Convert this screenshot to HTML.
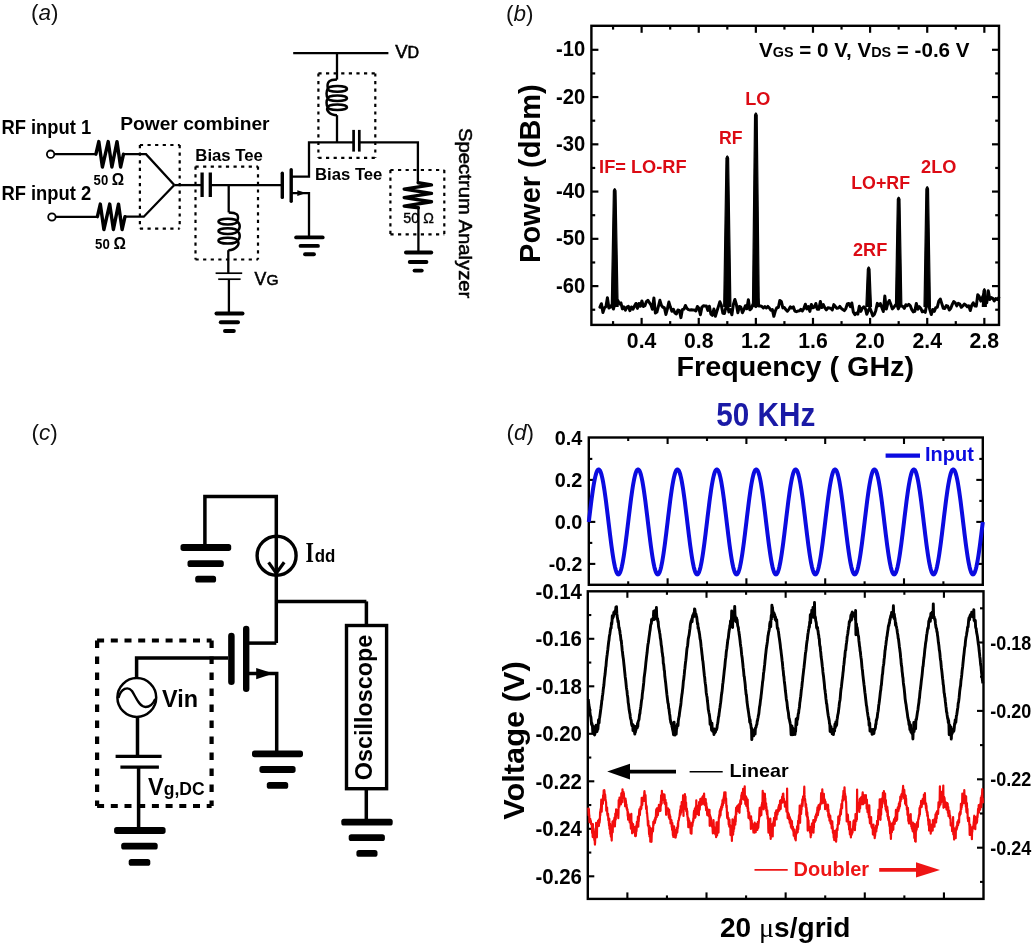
<!DOCTYPE html>
<html><head><meta charset="utf-8"><title>Figure</title>
<style>html,body{margin:0;padding:0;background:#fff;}svg{display:block;}</style></head>
<body><svg width="1033" height="944" viewBox="0 0 1033 944">
<rect width="1033" height="944" fill="#fff"/>
<text x="31" y="20" font-family="Liberation Sans, sans-serif" font-size="22.5" fill="#111">(<tspan font-style="italic">a</tspan>)</text>
<text x="506" y="20.5" font-family="Liberation Sans, sans-serif" font-size="22.5" fill="#111">(<tspan font-style="italic">b</tspan>)</text>
<text x="31.5" y="440" font-family="Liberation Sans, sans-serif" font-size="22.5" fill="#111">(<tspan font-style="italic">c</tspan>)</text>
<text x="506.5" y="440" font-family="Liberation Sans, sans-serif" font-size="22.5" fill="#111">(<tspan font-style="italic">d</tspan>)</text>
<text x="1.4" y="133.9" font-family="Liberation Sans, sans-serif" font-size="19.3" font-weight="bold" fill="#000" textLength="89.8" lengthAdjust="spacingAndGlyphs">RF input 1</text>
<text x="1.4" y="200.3" font-family="Liberation Sans, sans-serif" font-size="19.3" font-weight="bold" fill="#000" textLength="89.8" lengthAdjust="spacingAndGlyphs">RF input 2</text>
<text x="120.2" y="130" font-family="Liberation Sans, sans-serif" font-size="18.5" font-weight="bold" fill="#000" textLength="149.4" lengthAdjust="spacingAndGlyphs">Power combiner</text>
<text x="195.3" y="160.6" font-family="Liberation Sans, sans-serif" font-size="17.2" font-weight="bold" fill="#000" textLength="67.6" lengthAdjust="spacingAndGlyphs">Bias Tee</text>
<text x="315" y="179.6" font-family="Liberation Sans, sans-serif" font-size="17.2" font-weight="bold" fill="#000" textLength="67.4" lengthAdjust="spacingAndGlyphs">Bias Tee</text>
<text x="93.6" y="185.0" font-family="Liberation Sans, sans-serif" font-weight="bold" font-size="14" fill="#000" textLength="30.6" lengthAdjust="spacingAndGlyphs">50 <tspan font-size="16.5">Ω</tspan></text>
<text x="95.1" y="248.5" font-family="Liberation Sans, sans-serif" font-weight="bold" font-size="14" fill="#000" textLength="30.8" lengthAdjust="spacingAndGlyphs">50 <tspan font-size="16.5">Ω</tspan></text>
<text x="403.3" y="223.4" font-family="Liberation Sans, sans-serif" font-size="15.5" font-weight="normal" fill="#000" textLength="30.5" lengthAdjust="spacingAndGlyphs" stroke="#000" stroke-width="0.4">50 Ω</text>
<text x="254.6" y="284.7" font-family="Liberation Sans, sans-serif" font-size="17.7" fill="#000" stroke="#000" stroke-width="0.55">V<tspan font-size="15.5">G</tspan></text>
<text x="395.2" y="57.6" font-family="Liberation Sans, sans-serif" font-size="18.5" fill="#000" stroke="#000" stroke-width="0.55">V<tspan font-size="16">D</tspan></text>
<text x="459.2" y="128" font-family="Liberation Sans, sans-serif" font-size="19" font-weight="normal" fill="#000" textLength="170.4" lengthAdjust="spacingAndGlyphs" transform="rotate(90 459.2 128)" stroke="#000" stroke-width="0.5">Spectrum Analyzer</text>
<circle cx="50.6" cy="154.2" r="3.7" fill="#fff" stroke="#000" stroke-width="1.8"/>
<circle cx="51.9" cy="217" r="3.7" fill="#fff" stroke="#000" stroke-width="1.8"/>
<line x1="54.3" y1="154.2" x2="95.9" y2="154.2" stroke="#000" stroke-width="2.3" stroke-linecap="butt"/>
<polyline points="95.9,154.2 98.8,141.6 102.4,167 108.2,141.6 111.9,167 117,141.6 120.6,167 123.5,154.2" fill="none" stroke="#000" stroke-width="3.4" stroke-linecap="round" stroke-linejoin="round"/>
<polyline points="97.4,216.7 100.3,204.1 103.9,229.5 109.7,204.1 113.4,229.5 118.5,204.1 122.1,229.5 125,216.7" fill="none" stroke="#000" stroke-width="3.4" stroke-linecap="round" stroke-linejoin="round"/>
<line x1="55.3" y1="216.8" x2="97.4" y2="216.8" stroke="#000" stroke-width="2.3" stroke-linecap="butt"/>
<polyline points="123.5,154.2 146,154.2 174.3,185" fill="none" stroke="#000" stroke-width="2.3" stroke-linecap="butt" stroke-linejoin="miter"/>
<polyline points="125,216.7 143.8,216.7 174.3,185" fill="none" stroke="#000" stroke-width="2.3" stroke-linecap="butt" stroke-linejoin="miter"/>
<line x1="174.3" y1="185.1" x2="202.1" y2="185.1" stroke="#000" stroke-width="2.3" stroke-linecap="butt"/>
<line x1="202.1" y1="172.5" x2="202.1" y2="197" stroke="#000" stroke-width="3.3" stroke-linecap="butt"/>
<line x1="210.3" y1="172.5" x2="210.3" y2="197" stroke="#000" stroke-width="3.3" stroke-linecap="butt"/>
<line x1="210.3" y1="185.2" x2="282.3" y2="185.2" stroke="#000" stroke-width="2.3" stroke-linecap="butt"/>
<line x1="228.7" y1="185.2" x2="228.7" y2="212.4" stroke="#000" stroke-width="2.3" stroke-linecap="butt"/>
<path d="M228.7,212.4 C236.7,212.4 239.6,214.9 237.2,221.6 M237.2,221.6 C240.56,223.6 240.56,229.1 237.2,231.1 M237.2,231.1 C240.56,233.1 240.56,238.7 237.2,240.7 M237.2,240.7 C241.04,243.2 236.3,250.2 228.3,250.2" fill="none" stroke="#000" stroke-width="2.5" stroke-linecap="butt" stroke-linejoin="round"/>
<ellipse cx="227.8" cy="221.6" rx="9.4" ry="2.9" fill="none" stroke="#000" stroke-width="2.5"/>
<ellipse cx="227.8" cy="231.1" rx="9.4" ry="2.9" fill="none" stroke="#000" stroke-width="2.5"/>
<ellipse cx="227.8" cy="240.7" rx="9.4" ry="2.9" fill="none" stroke="#000" stroke-width="2.5"/>
<line x1="228.3" y1="250.2" x2="228.3" y2="273.2" stroke="#000" stroke-width="2.3" stroke-linecap="butt"/>
<line x1="215.6" y1="273.2" x2="242.2" y2="273.2" stroke="#000" stroke-width="1.7" stroke-linecap="butt"/>
<line x1="218.2" y1="279.2" x2="240.6" y2="279.2" stroke="#000" stroke-width="1.7" stroke-linecap="butt"/>
<line x1="228.9" y1="279.2" x2="228.9" y2="313.5" stroke="#000" stroke-width="2.3" stroke-linecap="butt"/>
<rect x="214.5" y="311.55" width="30" height="3.9" rx="1.95" fill="#000"/>
<rect x="218.8" y="320.35" width="21.2" height="3.9" rx="1.95" fill="#000"/>
<rect x="223" y="329.05" width="12.8" height="3.9" rx="1.95" fill="#000"/>
<line x1="282.3" y1="173.2" x2="282.3" y2="197.4" stroke="#000" stroke-width="3.4" stroke-linecap="round"/>
<line x1="291.2" y1="169.8" x2="291.2" y2="201.2" stroke="#000" stroke-width="3.4" stroke-linecap="round"/>
<polyline points="291.2,176.6 309,176.6 309,142.3 353.6,142.3" fill="none" stroke="#000" stroke-width="2.3" stroke-linecap="butt" stroke-linejoin="miter"/>
<polyline points="359.3,142.3 417.9,142.3 417.9,182.7" fill="none" stroke="#000" stroke-width="2.3" stroke-linecap="butt" stroke-linejoin="miter"/>
<polyline points="291.2,193.1 309,193.1 309,237.3" fill="none" stroke="#000" stroke-width="2.3" stroke-linecap="butt" stroke-linejoin="miter"/>
<polygon points="297.3,190.2 306.2,193.1 297.3,196" fill="#000"/>
<rect x="294.2" y="235.45" width="30.4" height="3.9" rx="1.95" fill="#000"/>
<rect x="298.6" y="244" width="21.3" height="3.8" rx="1.9" fill="#000"/>
<rect x="303.1" y="252.35" width="12.8" height="3.9" rx="1.95" fill="#000"/>
<line x1="293.2" y1="53.2" x2="388.4" y2="53.2" stroke="#000" stroke-width="2.2" stroke-linecap="butt"/>
<line x1="337" y1="53.2" x2="337" y2="79.6" stroke="#000" stroke-width="2.3" stroke-linecap="butt"/>
<path d="M337,79.6 C329,79.6 326.6,82.1 327.8,88.9 M327.8,88.9 C326.12,90.9 326.12,96.2 327.8,98.2 M327.8,98.2 C326.12,100.2 326.12,105.2 327.8,107.2 M327.8,107.2 C325.88,109.7 329,115.2 337,115.2" fill="none" stroke="#000" stroke-width="2.5" stroke-linecap="butt" stroke-linejoin="round"/>
<ellipse cx="337.4" cy="88.9" rx="9.6" ry="2.8" fill="none" stroke="#000" stroke-width="2.5"/>
<ellipse cx="337.4" cy="98.2" rx="9.6" ry="2.8" fill="none" stroke="#000" stroke-width="2.5"/>
<ellipse cx="337.4" cy="107.2" rx="9.6" ry="2.8" fill="none" stroke="#000" stroke-width="2.5"/>
<line x1="337" y1="115.2" x2="337" y2="142.3" stroke="#000" stroke-width="2.3" stroke-linecap="butt"/>
<line x1="353.6" y1="129.9" x2="353.6" y2="151.6" stroke="#000" stroke-width="2.7" stroke-linecap="butt"/>
<line x1="359.3" y1="129.9" x2="359.3" y2="151.6" stroke="#000" stroke-width="2.7" stroke-linecap="butt"/>
<polyline points="418.2,182.7 431.5,184.9 404.2,189.1 431.5,193.4 404.2,197.6 431.5,201.8 404.2,206.1 418.4,207.8" fill="none" stroke="#000" stroke-width="3.4" stroke-linecap="round" stroke-linejoin="round"/>
<line x1="418.4" y1="207.8" x2="418.4" y2="252.5" stroke="#000" stroke-width="2.3" stroke-linecap="butt"/>
<rect x="404" y="250.55" width="29.2" height="3.9" rx="1.95" fill="#000"/>
<rect x="407.8" y="260.05" width="20.6" height="3.9" rx="1.95" fill="#000"/>
<rect x="412.6" y="268.65" width="11.1" height="3.9" rx="1.95" fill="#000"/>
<line x1="139.9" y1="145" x2="179.7" y2="145" stroke="#000" stroke-width="2.2" stroke-linecap="butt" stroke-dasharray="3.2 4.4"/>
<line x1="139.9" y1="228.7" x2="179.7" y2="228.7" stroke="#000" stroke-width="2.2" stroke-linecap="butt" stroke-dasharray="3.2 4.4"/>
<line x1="139.9" y1="145" x2="139.9" y2="228.7" stroke="#000" stroke-width="2.2" stroke-linecap="butt" stroke-dasharray="3.2 4.4"/>
<line x1="179.7" y1="145" x2="179.7" y2="228.7" stroke="#000" stroke-width="2.2" stroke-linecap="butt" stroke-dasharray="3.2 4.4"/>
<line x1="195.5" y1="166.6" x2="258" y2="166.6" stroke="#000" stroke-width="2.2" stroke-linecap="butt" stroke-dasharray="3.2 4.4"/>
<line x1="195.5" y1="259.5" x2="258" y2="259.5" stroke="#000" stroke-width="2.2" stroke-linecap="butt" stroke-dasharray="3.2 4.4"/>
<line x1="195.5" y1="166.6" x2="195.5" y2="259.5" stroke="#000" stroke-width="2.2" stroke-linecap="butt" stroke-dasharray="3.2 4.4"/>
<line x1="258" y1="166.6" x2="258" y2="259.5" stroke="#000" stroke-width="2.2" stroke-linecap="butt" stroke-dasharray="3.2 4.4"/>
<line x1="318.4" y1="73.4" x2="375.3" y2="73.4" stroke="#000" stroke-width="2.2" stroke-linecap="butt" stroke-dasharray="3.2 4.4"/>
<line x1="318.4" y1="157.8" x2="375.3" y2="157.8" stroke="#000" stroke-width="2.2" stroke-linecap="butt" stroke-dasharray="3.2 4.4"/>
<line x1="318.4" y1="73.4" x2="318.4" y2="157.8" stroke="#000" stroke-width="2.2" stroke-linecap="butt" stroke-dasharray="3.2 4.4"/>
<line x1="375.3" y1="73.4" x2="375.3" y2="157.8" stroke="#000" stroke-width="2.2" stroke-linecap="butt" stroke-dasharray="3.2 4.4"/>
<line x1="390.4" y1="170" x2="444.3" y2="170" stroke="#000" stroke-width="2.2" stroke-linecap="butt" stroke-dasharray="3.2 4.4"/>
<line x1="390.4" y1="234.4" x2="444.3" y2="234.4" stroke="#000" stroke-width="2.2" stroke-linecap="butt" stroke-dasharray="3.2 4.4"/>
<line x1="390.4" y1="170" x2="390.4" y2="234.4" stroke="#000" stroke-width="2.2" stroke-linecap="butt" stroke-dasharray="3.2 4.4"/>
<line x1="444.3" y1="170" x2="444.3" y2="234.4" stroke="#000" stroke-width="2.2" stroke-linecap="butt" stroke-dasharray="3.2 4.4"/>
<polyline points="204.9,547.5 204.9,496.5 276.3,496.5 276.3,643.1" fill="none" stroke="#000" stroke-width="3.5" stroke-linecap="butt" stroke-linejoin="miter"/>
<rect x="180.5" y="544.1" width="50.7" height="6.8" rx="2.6" fill="#000"/>
<rect x="187.5" y="560.2" width="36.3" height="6.8" rx="2.6" fill="#000"/>
<rect x="195.2" y="575.8" width="20.9" height="6.8" rx="2.6" fill="#000"/>
<circle cx="276.6" cy="555.7" r="19.5" fill="none" stroke="#000" stroke-width="3.4"/>
<polyline points="268.6,562.3 276.3,573.3 284.2,562.3" fill="none" stroke="#000" stroke-width="3.2" stroke-linecap="butt" stroke-linejoin="miter"/>
<line x1="276.3" y1="601.4" x2="366.4" y2="601.4" stroke="#000" stroke-width="3.5" stroke-linecap="butt"/>
<line x1="366.4" y1="601.4" x2="366.4" y2="625.5" stroke="#000" stroke-width="3.5" stroke-linecap="butt"/>
<rect x="346.5" y="625.5" width="40.1" height="163.2" fill="none" stroke="#000" stroke-width="3.4"/>
<line x1="366.3" y1="788.7" x2="366.3" y2="822.1" stroke="#000" stroke-width="3.5" stroke-linecap="butt"/>
<rect x="341.3" y="818.7" width="51.4" height="6.8" rx="2.6" fill="#000"/>
<rect x="348.7" y="834.2" width="36.2" height="6.8" rx="2.6" fill="#000"/>
<rect x="356.4" y="850" width="21.1" height="6.8" rx="2.6" fill="#000"/>
<text x="372.3" y="780.2" font-family="Liberation Sans, sans-serif" font-size="23" font-weight="bold" fill="#000" textLength="145.4" lengthAdjust="spacingAndGlyphs" transform="rotate(-90 372.3 780.2)">Oscilloscope</text>
<line x1="231.4" y1="635.9" x2="231.4" y2="681.8" stroke="#000" stroke-width="6.5" stroke-linecap="round"/>
<line x1="246.2" y1="628.9" x2="246.2" y2="688.7" stroke="#000" stroke-width="6.4" stroke-linecap="round"/>
<line x1="246.2" y1="643.1" x2="276.3" y2="643.1" stroke="#000" stroke-width="3.5" stroke-linecap="butt"/>
<polyline points="246.2,673.6 276.7,673.6 276.7,753.8" fill="none" stroke="#000" stroke-width="3.5" stroke-linecap="butt" stroke-linejoin="miter"/>
<polygon points="256.2,668 273.5,673.6 256.2,679.2" fill="#000"/>
<rect x="252" y="750.4" width="51" height="6.8" rx="2.6" fill="#000"/>
<rect x="259.4" y="766.1" width="36.2" height="6.8" rx="2.6" fill="#000"/>
<rect x="266.8" y="782" width="21.4" height="6.8" rx="2.6" fill="#000"/>
<polyline points="228,658.1 136.6,658.1 136.6,678.1" fill="none" stroke="#000" stroke-width="3.5" stroke-linecap="butt" stroke-linejoin="miter"/>
<circle cx="136.8" cy="697.5" r="19.4" fill="none" stroke="#000" stroke-width="2.5"/>
<path d="M118.5,698 C121,688 128,686 132,691 C136,697 139,707 145.5,707 C150,707 153.5,703 155.2,699" fill="none" stroke="#000" stroke-width="2.3" stroke-linecap="butt" stroke-linejoin="round"/>
<line x1="137.5" y1="716.9" x2="137.5" y2="756.3" stroke="#000" stroke-width="3.5" stroke-linecap="butt"/>
<line x1="115.6" y1="756.3" x2="161.6" y2="756.3" stroke="#000" stroke-width="3.3" stroke-linecap="butt"/>
<line x1="120.4" y1="767.2" x2="158.9" y2="767.2" stroke="#000" stroke-width="3.3" stroke-linecap="butt"/>
<line x1="138.6" y1="767.2" x2="138.6" y2="830.5" stroke="#000" stroke-width="3.5" stroke-linecap="butt"/>
<rect x="114.1" y="827.1" width="51.5" height="6.8" rx="2.6" fill="#000"/>
<rect x="121.2" y="842.7" width="36.5" height="6.8" rx="2.6" fill="#000"/>
<rect x="128.7" y="859" width="21.6" height="6.8" rx="2.6" fill="#000"/>
<line x1="97.1" y1="640.5" x2="211.6" y2="640.5" stroke="#000" stroke-width="4.2" stroke-linecap="butt" stroke-dasharray="7 6.7"/>
<line x1="97.1" y1="806" x2="211.6" y2="806" stroke="#000" stroke-width="4.2" stroke-linecap="butt" stroke-dasharray="7 6.7"/>
<line x1="97.1" y1="640.5" x2="97.1" y2="806" stroke="#000" stroke-width="4.2" stroke-linecap="butt" stroke-dasharray="7.4 8.6"/>
<line x1="211.6" y1="640.5" x2="211.6" y2="806" stroke="#000" stroke-width="4.2" stroke-linecap="butt" stroke-dasharray="7.4 8.6"/>
<text x="305.6" y="561.8" font-family="Liberation Serif, serif" font-size="30" font-weight="bold" fill="#000" textLength="8.4" lengthAdjust="spacingAndGlyphs">I</text>
<text x="314.8" y="561.8" font-family="Liberation Sans, sans-serif" font-size="18.5" font-weight="bold" fill="#000" textLength="20.6" lengthAdjust="spacingAndGlyphs">dd</text>
<text x="162" y="707.2" font-family="Liberation Sans, sans-serif" font-size="24" font-weight="bold" fill="#000" textLength="36" lengthAdjust="spacingAndGlyphs">Vin</text>
<text x="148" y="794.9" font-family="Liberation Sans, sans-serif" font-weight="bold" fill="#000"><tspan font-size="23.5">V</tspan><tspan font-size="17.5">g,DC</tspan></text>
<rect x="591.4" y="25.8" width="407.6" height="299.1" fill="none" stroke="#000" stroke-width="2.4"/>
<line x1="613.06" y1="324.9" x2="613.06" y2="321.1" stroke="#000" stroke-width="2.2" stroke-linecap="butt"/>
<line x1="613.06" y1="25.8" x2="613.06" y2="29.6" stroke="#000" stroke-width="2.2" stroke-linecap="butt"/>
<line x1="641.62" y1="324.9" x2="641.62" y2="317.9" stroke="#000" stroke-width="2.2" stroke-linecap="butt"/>
<line x1="641.62" y1="25.8" x2="641.62" y2="32.8" stroke="#000" stroke-width="2.2" stroke-linecap="butt"/>
<line x1="670.18" y1="324.9" x2="670.18" y2="321.1" stroke="#000" stroke-width="2.2" stroke-linecap="butt"/>
<line x1="670.18" y1="25.8" x2="670.18" y2="29.6" stroke="#000" stroke-width="2.2" stroke-linecap="butt"/>
<line x1="698.74" y1="324.9" x2="698.74" y2="317.9" stroke="#000" stroke-width="2.2" stroke-linecap="butt"/>
<line x1="698.74" y1="25.8" x2="698.74" y2="32.8" stroke="#000" stroke-width="2.2" stroke-linecap="butt"/>
<line x1="727.3" y1="324.9" x2="727.3" y2="321.1" stroke="#000" stroke-width="2.2" stroke-linecap="butt"/>
<line x1="727.3" y1="25.8" x2="727.3" y2="29.6" stroke="#000" stroke-width="2.2" stroke-linecap="butt"/>
<line x1="755.86" y1="324.9" x2="755.86" y2="317.9" stroke="#000" stroke-width="2.2" stroke-linecap="butt"/>
<line x1="755.86" y1="25.8" x2="755.86" y2="32.8" stroke="#000" stroke-width="2.2" stroke-linecap="butt"/>
<line x1="784.42" y1="324.9" x2="784.42" y2="321.1" stroke="#000" stroke-width="2.2" stroke-linecap="butt"/>
<line x1="784.42" y1="25.8" x2="784.42" y2="29.6" stroke="#000" stroke-width="2.2" stroke-linecap="butt"/>
<line x1="812.98" y1="324.9" x2="812.98" y2="317.9" stroke="#000" stroke-width="2.2" stroke-linecap="butt"/>
<line x1="812.98" y1="25.8" x2="812.98" y2="32.8" stroke="#000" stroke-width="2.2" stroke-linecap="butt"/>
<line x1="841.54" y1="324.9" x2="841.54" y2="321.1" stroke="#000" stroke-width="2.2" stroke-linecap="butt"/>
<line x1="841.54" y1="25.8" x2="841.54" y2="29.6" stroke="#000" stroke-width="2.2" stroke-linecap="butt"/>
<line x1="870.1" y1="324.9" x2="870.1" y2="317.9" stroke="#000" stroke-width="2.2" stroke-linecap="butt"/>
<line x1="870.1" y1="25.8" x2="870.1" y2="32.8" stroke="#000" stroke-width="2.2" stroke-linecap="butt"/>
<line x1="898.66" y1="324.9" x2="898.66" y2="321.1" stroke="#000" stroke-width="2.2" stroke-linecap="butt"/>
<line x1="898.66" y1="25.8" x2="898.66" y2="29.6" stroke="#000" stroke-width="2.2" stroke-linecap="butt"/>
<line x1="927.22" y1="324.9" x2="927.22" y2="317.9" stroke="#000" stroke-width="2.2" stroke-linecap="butt"/>
<line x1="927.22" y1="25.8" x2="927.22" y2="32.8" stroke="#000" stroke-width="2.2" stroke-linecap="butt"/>
<line x1="955.78" y1="324.9" x2="955.78" y2="321.1" stroke="#000" stroke-width="2.2" stroke-linecap="butt"/>
<line x1="955.78" y1="25.8" x2="955.78" y2="29.6" stroke="#000" stroke-width="2.2" stroke-linecap="butt"/>
<line x1="984.34" y1="324.9" x2="984.34" y2="317.9" stroke="#000" stroke-width="2.2" stroke-linecap="butt"/>
<line x1="984.34" y1="25.8" x2="984.34" y2="32.8" stroke="#000" stroke-width="2.2" stroke-linecap="butt"/>
<line x1="591.4" y1="49.8" x2="598.4" y2="49.8" stroke="#000" stroke-width="2.2" stroke-linecap="butt"/>
<line x1="999" y1="49.8" x2="992" y2="49.8" stroke="#000" stroke-width="2.2" stroke-linecap="butt"/>
<line x1="591.4" y1="73.43" x2="595.2" y2="73.43" stroke="#000" stroke-width="2.2" stroke-linecap="butt"/>
<line x1="999" y1="73.43" x2="995.2" y2="73.43" stroke="#000" stroke-width="2.2" stroke-linecap="butt"/>
<line x1="591.4" y1="97.06" x2="598.4" y2="97.06" stroke="#000" stroke-width="2.2" stroke-linecap="butt"/>
<line x1="999" y1="97.06" x2="992" y2="97.06" stroke="#000" stroke-width="2.2" stroke-linecap="butt"/>
<line x1="591.4" y1="120.69" x2="595.2" y2="120.69" stroke="#000" stroke-width="2.2" stroke-linecap="butt"/>
<line x1="999" y1="120.69" x2="995.2" y2="120.69" stroke="#000" stroke-width="2.2" stroke-linecap="butt"/>
<line x1="591.4" y1="144.32" x2="598.4" y2="144.32" stroke="#000" stroke-width="2.2" stroke-linecap="butt"/>
<line x1="999" y1="144.32" x2="992" y2="144.32" stroke="#000" stroke-width="2.2" stroke-linecap="butt"/>
<line x1="591.4" y1="167.95" x2="595.2" y2="167.95" stroke="#000" stroke-width="2.2" stroke-linecap="butt"/>
<line x1="999" y1="167.95" x2="995.2" y2="167.95" stroke="#000" stroke-width="2.2" stroke-linecap="butt"/>
<line x1="591.4" y1="191.58" x2="598.4" y2="191.58" stroke="#000" stroke-width="2.2" stroke-linecap="butt"/>
<line x1="999" y1="191.58" x2="992" y2="191.58" stroke="#000" stroke-width="2.2" stroke-linecap="butt"/>
<line x1="591.4" y1="215.21" x2="595.2" y2="215.21" stroke="#000" stroke-width="2.2" stroke-linecap="butt"/>
<line x1="999" y1="215.21" x2="995.2" y2="215.21" stroke="#000" stroke-width="2.2" stroke-linecap="butt"/>
<line x1="591.4" y1="238.84" x2="598.4" y2="238.84" stroke="#000" stroke-width="2.2" stroke-linecap="butt"/>
<line x1="999" y1="238.84" x2="992" y2="238.84" stroke="#000" stroke-width="2.2" stroke-linecap="butt"/>
<line x1="591.4" y1="262.47" x2="595.2" y2="262.47" stroke="#000" stroke-width="2.2" stroke-linecap="butt"/>
<line x1="999" y1="262.47" x2="995.2" y2="262.47" stroke="#000" stroke-width="2.2" stroke-linecap="butt"/>
<line x1="591.4" y1="286.1" x2="598.4" y2="286.1" stroke="#000" stroke-width="2.2" stroke-linecap="butt"/>
<line x1="999" y1="286.1" x2="992" y2="286.1" stroke="#000" stroke-width="2.2" stroke-linecap="butt"/>
<line x1="591.4" y1="309.73" x2="595.2" y2="309.73" stroke="#000" stroke-width="2.2" stroke-linecap="butt"/>
<line x1="999" y1="309.73" x2="995.2" y2="309.73" stroke="#000" stroke-width="2.2" stroke-linecap="butt"/>
<text x="585.2" y="56.4" font-family="Liberation Sans, sans-serif" font-size="22" font-weight="bold" fill="#000" text-anchor="end" textLength="29.2" lengthAdjust="spacingAndGlyphs">-10</text>
<text x="585.2" y="103.66" font-family="Liberation Sans, sans-serif" font-size="22" font-weight="bold" fill="#000" text-anchor="end" textLength="29.2" lengthAdjust="spacingAndGlyphs">-20</text>
<text x="585.2" y="150.92" font-family="Liberation Sans, sans-serif" font-size="22" font-weight="bold" fill="#000" text-anchor="end" textLength="29.2" lengthAdjust="spacingAndGlyphs">-30</text>
<text x="585.2" y="198.18" font-family="Liberation Sans, sans-serif" font-size="22" font-weight="bold" fill="#000" text-anchor="end" textLength="29.2" lengthAdjust="spacingAndGlyphs">-40</text>
<text x="585.2" y="245.44" font-family="Liberation Sans, sans-serif" font-size="22" font-weight="bold" fill="#000" text-anchor="end" textLength="29.2" lengthAdjust="spacingAndGlyphs">-50</text>
<text x="585.2" y="292.7" font-family="Liberation Sans, sans-serif" font-size="22" font-weight="bold" fill="#000" text-anchor="end" textLength="29.2" lengthAdjust="spacingAndGlyphs">-60</text>
<text x="641.62" y="348.3" font-family="Liberation Sans, sans-serif" font-size="22" font-weight="bold" fill="#000" text-anchor="middle" textLength="29.5" lengthAdjust="spacingAndGlyphs">0.4</text>
<text x="698.74" y="348.3" font-family="Liberation Sans, sans-serif" font-size="22" font-weight="bold" fill="#000" text-anchor="middle" textLength="29.5" lengthAdjust="spacingAndGlyphs">0.8</text>
<text x="755.86" y="348.3" font-family="Liberation Sans, sans-serif" font-size="22" font-weight="bold" fill="#000" text-anchor="middle" textLength="29.5" lengthAdjust="spacingAndGlyphs">1.2</text>
<text x="812.98" y="348.3" font-family="Liberation Sans, sans-serif" font-size="22" font-weight="bold" fill="#000" text-anchor="middle" textLength="29.5" lengthAdjust="spacingAndGlyphs">1.6</text>
<text x="870.1" y="348.3" font-family="Liberation Sans, sans-serif" font-size="22" font-weight="bold" fill="#000" text-anchor="middle" textLength="29.5" lengthAdjust="spacingAndGlyphs">2.0</text>
<text x="927.22" y="348.3" font-family="Liberation Sans, sans-serif" font-size="22" font-weight="bold" fill="#000" text-anchor="middle" textLength="29.5" lengthAdjust="spacingAndGlyphs">2.4</text>
<text x="984.34" y="348.3" font-family="Liberation Sans, sans-serif" font-size="22" font-weight="bold" fill="#000" text-anchor="middle" textLength="29.5" lengthAdjust="spacingAndGlyphs">2.8</text>
<text x="540.3" y="173.6" font-family="Liberation Sans, sans-serif" font-size="30" font-weight="bold" fill="#000" text-anchor="middle" textLength="178.6" lengthAdjust="spacingAndGlyphs" transform="rotate(-90 540.3 173.6)">Power (dBm)</text>
<text x="676.5" y="375.5" font-family="Liberation Sans, sans-serif" font-size="28.5" font-weight="bold" fill="#000" textLength="237.5" lengthAdjust="spacingAndGlyphs">Frequency ( GHz)</text>
<text x="759" y="56.9" font-family="Liberation Sans, sans-serif" font-weight="bold" font-size="20" fill="#000" textLength="210.5" lengthAdjust="spacingAndGlyphs">V<tspan font-size="14">GS</tspan> = 0 V, V<tspan font-size="14">DS</tspan> = -0.6 V</text>
<text x="599.1" y="172.6" font-family="Liberation Sans, sans-serif" font-size="18" font-weight="bold" fill="#dc0b14" textLength="87.4" lengthAdjust="spacingAndGlyphs">IF= LO-RF</text>
<text x="719.1" y="143.9" font-family="Liberation Sans, sans-serif" font-size="18" font-weight="bold" fill="#dc0b14" textLength="23.5" lengthAdjust="spacingAndGlyphs">RF</text>
<text x="745.3" y="104.9" font-family="Liberation Sans, sans-serif" font-size="18" font-weight="bold" fill="#dc0b14" textLength="25.1" lengthAdjust="spacingAndGlyphs">LO</text>
<text x="853" y="255.8" font-family="Liberation Sans, sans-serif" font-size="18" font-weight="bold" fill="#dc0b14" textLength="34.2" lengthAdjust="spacingAndGlyphs">2RF</text>
<text x="851.2" y="188.7" font-family="Liberation Sans, sans-serif" font-size="18" font-weight="bold" fill="#dc0b14" textLength="58.9" lengthAdjust="spacingAndGlyphs">LO+RF</text>
<text x="921.1" y="172.7" font-family="Liberation Sans, sans-serif" font-size="18" font-weight="bold" fill="#dc0b14" textLength="35.3" lengthAdjust="spacingAndGlyphs">2LO</text>
<polyline points="599.92,307.1 601.42,303.73 602.92,312.5 604.42,307.92 605.92,306.64 607.42,297.81 608.92,308.03 610.42,307 611.92,304.91 613.42,309.05 614.92,303.56 616.42,304.16 617.92,300.67 619.41,303.92 620.91,302.91 622.41,308.9 623.91,306.94 625.41,310.14 626.91,307.08 628.41,306.39 629.91,310.69 631.41,306.98 632.91,309.22 634.41,306.28 635.91,303.45 637.41,308.43 638.91,303.51 640.41,306.26 641.91,300.98 643.41,306.49 644.9,305.76 646.4,301.61 647.9,300.23 649.4,302.71 650.9,304.83 652.4,309.25 653.9,297.89 655.4,313.08 656.9,312.08 658.4,306.4 659.9,300.32 661.4,305.33 662.9,307.24 664.4,307.74 665.9,314.44 667.4,308.91 668.89,302.07 670.39,307.06 671.89,311.3 673.39,309.26 674.89,312.94 676.39,313.93 677.89,310.05 679.39,310.36 680.89,317.63 682.39,309.45 683.89,309.19 685.39,305.47 686.89,308.41 688.39,309.63 689.89,309.94 691.39,309.72 692.89,309.99 694.38,309.98 695.88,310.98 697.38,306.5 698.88,308.32 700.38,314.69 701.88,307.36 703.38,305.72 704.88,306.06 706.38,305.99 707.88,310.43 709.38,306.2 710.88,314.08 712.38,315.35 713.88,309.05 715.38,316.2 716.88,311.26 718.37,306.66 719.87,301.69 721.37,305.41 722.87,313.26 724.37,313.53 725.87,307.68 727.37,304.63 728.87,311.9 730.37,309.59 731.87,314.74 733.37,304.4 734.87,299.54 736.37,304.43 737.87,312.7 739.37,306.45 740.87,307.2 742.37,312.7 743.86,309.86 745.36,305.73 746.86,308.77 748.36,299.64 749.86,309.85 751.36,308.38 752.86,304.63 754.36,305.42 755.86,306.65 757.36,297.1 758.86,305.97 760.36,305.92 761.86,306.48 763.36,307.99 764.86,306.5 766.36,307.99 767.86,306.44 769.35,307.99 770.85,310.17 772.35,309.58 773.85,316.35 775.35,310.85 776.85,307.63 778.35,307.45 779.85,300.41 781.35,301.73 782.85,307.86 784.35,307.57 785.85,309.71 787.35,311.19 788.85,309.4 790.35,306.8 791.85,308.01 793.34,306.8 794.84,311.09 796.34,311.69 797.84,311.04 799.34,310.76 800.84,309.42 802.34,310.92 803.84,308.5 805.34,304.25 806.84,308.94 808.34,306.56 809.84,311.35 811.34,304.46 812.84,307.77 814.34,307.18 815.84,303.48 817.34,309.28 818.83,309.25 820.33,301.45 821.83,307.53 823.33,304.62 824.83,307.89 826.33,309.87 827.83,307.86 829.33,308.05 830.83,308.37 832.33,309.91 833.83,304.61 835.33,306.49 836.83,308.28 838.33,308.12 839.83,306.41 841.33,308.34 842.83,309.61 844.32,310.63 845.82,308.58 847.32,303.96 848.82,303.48 850.32,306.59 851.82,302.98 853.32,312 854.82,314.63 856.32,313 857.82,314.16 859.32,306.29 860.82,311.36 862.32,308.31 863.82,306.73 865.32,308.34 866.82,314.3 868.31,310.44 869.81,307.66 871.31,311.63 872.81,315.88 874.31,314.47 875.81,310.43 877.31,303.35 878.81,305.73 880.31,303.55 881.81,307.46 883.31,311.57 884.81,296.02 886.31,309.09 887.81,303.28 889.31,300.45 890.81,304.25 892.31,308.87 893.8,307.45 895.3,305.27 896.8,304.06 898.3,308.88 899.8,305.49 901.3,305.96 902.8,306.44 904.3,308.4 905.8,304.7 907.3,305.73 908.8,304.29 910.3,305.82 911.8,309.71 913.3,311.86 914.8,311.4 916.3,303.44 917.8,309.21 919.29,306.7 920.79,308.44 922.29,311.81 923.79,311.12 925.29,312.29 926.79,303.76 928.29,301.85 929.79,309.59 931.29,314.49 932.79,309.47 934.29,311.4 935.79,307.63 937.29,307.23 938.79,301.08 940.29,299.04 941.79,303.62 943.28,308.28 944.78,308.52 946.28,305.59 947.78,306.22 949.28,310.07 950.78,308.19 952.28,304.39 953.78,301.55 955.28,302.91 956.78,305.83 958.28,303.27 959.78,304.04 961.28,307.29 962.78,305.97 964.28,304.05 965.78,304.93 967.28,306.77 968.77,305.84 970.27,310.51 971.77,305.2 973.27,302.8 974.77,305.96 976.27,306.13 977.77,294.71 979.27,296.75 980.77,301.1 982.27,297.54 983.77,294.43 985.27,298.24 986.77,302.78 988.27,290.7 989.77,299.44 991.27,297.63 992.77,298.34 994.26,300.9 995.76,298.58 997.26,299.52 998.76,297.57" fill="none" stroke="#000" stroke-width="3.0" stroke-linecap="round" stroke-linejoin="round"/>
<path d="M611.3,306.42 L613.4,190.77 Q614.7,186.27 616,190.77 L618.1,306.42 Z" fill="#000" stroke="#000" stroke-width="1.2" stroke-linejoin="round"/>
<path d="M723.7,306.42 L726,158.16 Q727.3,153.66 728.6,158.16 L730.9,306.42 Z" fill="#000" stroke="#000" stroke-width="1.2" stroke-linejoin="round"/>
<path d="M752.46,306.42 L754.56,115.16 Q755.86,110.66 757.16,115.16 L759.26,306.42 Z" fill="#000" stroke="#000" stroke-width="1.2" stroke-linejoin="round"/>
<path d="M865.87,306.42 L867.37,269.22 Q868.67,264.72 869.97,269.22 L871.47,306.42 Z" fill="#000" stroke="#000" stroke-width="1.2" stroke-linejoin="round"/>
<path d="M895.46,306.42 L897.36,199.28 Q898.66,194.78 899.96,199.28 L901.86,306.42 Z" fill="#000" stroke="#000" stroke-width="1.2" stroke-linejoin="round"/>
<path d="M924.02,306.42 L925.92,188.88 Q927.22,184.38 928.52,188.88 L930.42,306.42 Z" fill="#000" stroke="#000" stroke-width="1.2" stroke-linejoin="round"/>
<path d="M982.34,306.42 L983.04,290.96 Q984.34,286.46 985.64,290.96 L986.34,306.42 Z" fill="#000" stroke="#000" stroke-width="1.2" stroke-linejoin="round"/>
<rect x="588.8" y="437.5" width="394" height="147.3" fill="none" stroke="#000" stroke-width="2.4"/>
<rect x="587.8" y="591.3" width="395.7" height="307.6" fill="none" stroke="#000" stroke-width="2.4"/>
<line x1="628.2" y1="584.8" x2="628.2" y2="581.3" stroke="#000" stroke-width="2.1" stroke-linecap="butt"/>
<line x1="628.2" y1="437.5" x2="628.2" y2="441" stroke="#000" stroke-width="2.1" stroke-linecap="butt"/>
<line x1="667.6" y1="584.8" x2="667.6" y2="578.3" stroke="#000" stroke-width="2.1" stroke-linecap="butt"/>
<line x1="667.6" y1="437.5" x2="667.6" y2="444" stroke="#000" stroke-width="2.1" stroke-linecap="butt"/>
<line x1="707" y1="584.8" x2="707" y2="581.3" stroke="#000" stroke-width="2.1" stroke-linecap="butt"/>
<line x1="707" y1="437.5" x2="707" y2="441" stroke="#000" stroke-width="2.1" stroke-linecap="butt"/>
<line x1="746.4" y1="584.8" x2="746.4" y2="578.3" stroke="#000" stroke-width="2.1" stroke-linecap="butt"/>
<line x1="746.4" y1="437.5" x2="746.4" y2="444" stroke="#000" stroke-width="2.1" stroke-linecap="butt"/>
<line x1="785.8" y1="584.8" x2="785.8" y2="581.3" stroke="#000" stroke-width="2.1" stroke-linecap="butt"/>
<line x1="785.8" y1="437.5" x2="785.8" y2="441" stroke="#000" stroke-width="2.1" stroke-linecap="butt"/>
<line x1="825.2" y1="584.8" x2="825.2" y2="578.3" stroke="#000" stroke-width="2.1" stroke-linecap="butt"/>
<line x1="825.2" y1="437.5" x2="825.2" y2="444" stroke="#000" stroke-width="2.1" stroke-linecap="butt"/>
<line x1="864.6" y1="584.8" x2="864.6" y2="581.3" stroke="#000" stroke-width="2.1" stroke-linecap="butt"/>
<line x1="864.6" y1="437.5" x2="864.6" y2="441" stroke="#000" stroke-width="2.1" stroke-linecap="butt"/>
<line x1="904" y1="584.8" x2="904" y2="578.3" stroke="#000" stroke-width="2.1" stroke-linecap="butt"/>
<line x1="904" y1="437.5" x2="904" y2="444" stroke="#000" stroke-width="2.1" stroke-linecap="butt"/>
<line x1="943.4" y1="584.8" x2="943.4" y2="581.3" stroke="#000" stroke-width="2.1" stroke-linecap="butt"/>
<line x1="943.4" y1="437.5" x2="943.4" y2="441" stroke="#000" stroke-width="2.1" stroke-linecap="butt"/>
<line x1="627.37" y1="898.9" x2="627.37" y2="892.4" stroke="#000" stroke-width="2.1" stroke-linecap="butt"/>
<line x1="627.37" y1="591.3" x2="627.37" y2="597.8" stroke="#000" stroke-width="2.1" stroke-linecap="butt"/>
<line x1="666.94" y1="898.9" x2="666.94" y2="895.4" stroke="#000" stroke-width="2.1" stroke-linecap="butt"/>
<line x1="666.94" y1="591.3" x2="666.94" y2="594.8" stroke="#000" stroke-width="2.1" stroke-linecap="butt"/>
<line x1="706.51" y1="898.9" x2="706.51" y2="892.4" stroke="#000" stroke-width="2.1" stroke-linecap="butt"/>
<line x1="706.51" y1="591.3" x2="706.51" y2="597.8" stroke="#000" stroke-width="2.1" stroke-linecap="butt"/>
<line x1="746.08" y1="898.9" x2="746.08" y2="895.4" stroke="#000" stroke-width="2.1" stroke-linecap="butt"/>
<line x1="746.08" y1="591.3" x2="746.08" y2="594.8" stroke="#000" stroke-width="2.1" stroke-linecap="butt"/>
<line x1="785.65" y1="898.9" x2="785.65" y2="892.4" stroke="#000" stroke-width="2.1" stroke-linecap="butt"/>
<line x1="785.65" y1="591.3" x2="785.65" y2="597.8" stroke="#000" stroke-width="2.1" stroke-linecap="butt"/>
<line x1="825.22" y1="898.9" x2="825.22" y2="895.4" stroke="#000" stroke-width="2.1" stroke-linecap="butt"/>
<line x1="825.22" y1="591.3" x2="825.22" y2="594.8" stroke="#000" stroke-width="2.1" stroke-linecap="butt"/>
<line x1="864.79" y1="898.9" x2="864.79" y2="892.4" stroke="#000" stroke-width="2.1" stroke-linecap="butt"/>
<line x1="864.79" y1="591.3" x2="864.79" y2="597.8" stroke="#000" stroke-width="2.1" stroke-linecap="butt"/>
<line x1="904.36" y1="898.9" x2="904.36" y2="895.4" stroke="#000" stroke-width="2.1" stroke-linecap="butt"/>
<line x1="904.36" y1="591.3" x2="904.36" y2="594.8" stroke="#000" stroke-width="2.1" stroke-linecap="butt"/>
<line x1="943.93" y1="898.9" x2="943.93" y2="892.4" stroke="#000" stroke-width="2.1" stroke-linecap="butt"/>
<line x1="943.93" y1="591.3" x2="943.93" y2="597.8" stroke="#000" stroke-width="2.1" stroke-linecap="butt"/>
<line x1="588.8" y1="458.9" x2="592.3" y2="458.9" stroke="#000" stroke-width="2.1" stroke-linecap="butt"/>
<line x1="982.8" y1="458.9" x2="979.3" y2="458.9" stroke="#000" stroke-width="2.1" stroke-linecap="butt"/>
<line x1="588.8" y1="479.9" x2="595.3" y2="479.9" stroke="#000" stroke-width="2.1" stroke-linecap="butt"/>
<line x1="982.8" y1="479.9" x2="976.3" y2="479.9" stroke="#000" stroke-width="2.1" stroke-linecap="butt"/>
<line x1="588.8" y1="500.9" x2="592.3" y2="500.9" stroke="#000" stroke-width="2.1" stroke-linecap="butt"/>
<line x1="982.8" y1="500.9" x2="979.3" y2="500.9" stroke="#000" stroke-width="2.1" stroke-linecap="butt"/>
<line x1="588.8" y1="521.9" x2="595.3" y2="521.9" stroke="#000" stroke-width="2.1" stroke-linecap="butt"/>
<line x1="982.8" y1="521.9" x2="976.3" y2="521.9" stroke="#000" stroke-width="2.1" stroke-linecap="butt"/>
<line x1="588.8" y1="542.9" x2="592.3" y2="542.9" stroke="#000" stroke-width="2.1" stroke-linecap="butt"/>
<line x1="982.8" y1="542.9" x2="979.3" y2="542.9" stroke="#000" stroke-width="2.1" stroke-linecap="butt"/>
<line x1="588.8" y1="563.9" x2="595.3" y2="563.9" stroke="#000" stroke-width="2.1" stroke-linecap="butt"/>
<line x1="982.8" y1="563.9" x2="976.3" y2="563.9" stroke="#000" stroke-width="2.1" stroke-linecap="butt"/>
<line x1="587.8" y1="615.05" x2="591.3" y2="615.05" stroke="#000" stroke-width="2.1" stroke-linecap="butt"/>
<line x1="587.8" y1="638.8" x2="594.3" y2="638.8" stroke="#000" stroke-width="2.1" stroke-linecap="butt"/>
<line x1="587.8" y1="662.55" x2="591.3" y2="662.55" stroke="#000" stroke-width="2.1" stroke-linecap="butt"/>
<line x1="587.8" y1="686.3" x2="594.3" y2="686.3" stroke="#000" stroke-width="2.1" stroke-linecap="butt"/>
<line x1="587.8" y1="710.05" x2="591.3" y2="710.05" stroke="#000" stroke-width="2.1" stroke-linecap="butt"/>
<line x1="587.8" y1="733.8" x2="594.3" y2="733.8" stroke="#000" stroke-width="2.1" stroke-linecap="butt"/>
<line x1="587.8" y1="757.55" x2="591.3" y2="757.55" stroke="#000" stroke-width="2.1" stroke-linecap="butt"/>
<line x1="587.8" y1="781.3" x2="594.3" y2="781.3" stroke="#000" stroke-width="2.1" stroke-linecap="butt"/>
<line x1="587.8" y1="805.05" x2="591.3" y2="805.05" stroke="#000" stroke-width="2.1" stroke-linecap="butt"/>
<line x1="587.8" y1="828.8" x2="594.3" y2="828.8" stroke="#000" stroke-width="2.1" stroke-linecap="butt"/>
<line x1="587.8" y1="852.55" x2="591.3" y2="852.55" stroke="#000" stroke-width="2.1" stroke-linecap="butt"/>
<line x1="587.8" y1="876.3" x2="594.3" y2="876.3" stroke="#000" stroke-width="2.1" stroke-linecap="butt"/>
<line x1="983.5" y1="608.3" x2="980" y2="608.3" stroke="#000" stroke-width="2.1" stroke-linecap="butt"/>
<line x1="983.5" y1="642.5" x2="977" y2="642.5" stroke="#000" stroke-width="2.1" stroke-linecap="butt"/>
<line x1="983.5" y1="676.7" x2="980" y2="676.7" stroke="#000" stroke-width="2.1" stroke-linecap="butt"/>
<line x1="983.5" y1="710.9" x2="977" y2="710.9" stroke="#000" stroke-width="2.1" stroke-linecap="butt"/>
<line x1="983.5" y1="745.1" x2="980" y2="745.1" stroke="#000" stroke-width="2.1" stroke-linecap="butt"/>
<line x1="983.5" y1="779.3" x2="977" y2="779.3" stroke="#000" stroke-width="2.1" stroke-linecap="butt"/>
<line x1="983.5" y1="813.5" x2="980" y2="813.5" stroke="#000" stroke-width="2.1" stroke-linecap="butt"/>
<line x1="983.5" y1="847.7" x2="977" y2="847.7" stroke="#000" stroke-width="2.1" stroke-linecap="butt"/>
<line x1="983.5" y1="881.9" x2="980" y2="881.9" stroke="#000" stroke-width="2.1" stroke-linecap="butt"/>
<text x="582.3" y="444.9" font-family="Liberation Sans, sans-serif" font-size="20.5" font-weight="bold" fill="#000" text-anchor="end" textLength="27.6" lengthAdjust="spacingAndGlyphs">0.4</text>
<text x="582.3" y="486.9" font-family="Liberation Sans, sans-serif" font-size="20.5" font-weight="bold" fill="#000" text-anchor="end" textLength="27.6" lengthAdjust="spacingAndGlyphs">0.2</text>
<text x="582.3" y="528.9" font-family="Liberation Sans, sans-serif" font-size="20.5" font-weight="bold" fill="#000" text-anchor="end" textLength="27.6" lengthAdjust="spacingAndGlyphs">0.0</text>
<text x="582.3" y="570.9" font-family="Liberation Sans, sans-serif" font-size="20.5" font-weight="bold" fill="#000" text-anchor="end" textLength="33.6" lengthAdjust="spacingAndGlyphs">-0.2</text>
<text x="582" y="598.7" font-family="Liberation Sans, sans-serif" font-size="22" font-weight="bold" fill="#000" text-anchor="end" textLength="46.6" lengthAdjust="spacingAndGlyphs">-0.14</text>
<text x="582" y="646.2" font-family="Liberation Sans, sans-serif" font-size="22" font-weight="bold" fill="#000" text-anchor="end" textLength="46.6" lengthAdjust="spacingAndGlyphs">-0.16</text>
<text x="582" y="693.7" font-family="Liberation Sans, sans-serif" font-size="22" font-weight="bold" fill="#000" text-anchor="end" textLength="46.6" lengthAdjust="spacingAndGlyphs">-0.18</text>
<text x="582" y="741.2" font-family="Liberation Sans, sans-serif" font-size="22" font-weight="bold" fill="#000" text-anchor="end" textLength="46.6" lengthAdjust="spacingAndGlyphs">-0.20</text>
<text x="582" y="788.7" font-family="Liberation Sans, sans-serif" font-size="22" font-weight="bold" fill="#000" text-anchor="end" textLength="46.6" lengthAdjust="spacingAndGlyphs">-0.22</text>
<text x="582" y="836.2" font-family="Liberation Sans, sans-serif" font-size="22" font-weight="bold" fill="#000" text-anchor="end" textLength="46.6" lengthAdjust="spacingAndGlyphs">-0.24</text>
<text x="582" y="883.7" font-family="Liberation Sans, sans-serif" font-size="22" font-weight="bold" fill="#000" text-anchor="end" textLength="46.6" lengthAdjust="spacingAndGlyphs">-0.26</text>
<text x="990.2" y="649.5" font-family="Liberation Sans, sans-serif" font-size="20.5" font-weight="bold" fill="#000" textLength="41" lengthAdjust="spacingAndGlyphs">-0.18</text>
<text x="990.2" y="717.9" font-family="Liberation Sans, sans-serif" font-size="20.5" font-weight="bold" fill="#000" textLength="41" lengthAdjust="spacingAndGlyphs">-0.20</text>
<text x="990.2" y="786.3" font-family="Liberation Sans, sans-serif" font-size="20.5" font-weight="bold" fill="#000" textLength="41" lengthAdjust="spacingAndGlyphs">-0.22</text>
<text x="990.2" y="854.7" font-family="Liberation Sans, sans-serif" font-size="20.5" font-weight="bold" fill="#000" textLength="41" lengthAdjust="spacingAndGlyphs">-0.24</text>
<text x="716.3" y="425.8" font-family="Liberation Sans, sans-serif" font-size="33.5" font-weight="bold" fill="#1a1aa6" textLength="99" lengthAdjust="spacingAndGlyphs">50 KHz</text>
<text x="523.6" y="740.5" font-family="Liberation Sans, sans-serif" font-size="30" font-weight="bold" fill="#000" text-anchor="middle" textLength="158.4" lengthAdjust="spacingAndGlyphs" transform="rotate(-90 523.6 740.5)">Voltage (V)</text>
<text x="720" y="936.5" font-family="Liberation Sans, sans-serif" font-weight="bold" font-size="28" fill="#000" textLength="130.5" lengthAdjust="spacingAndGlyphs">20 <tspan font-weight="normal" font-family="Liberation Serif, serif">μ</tspan>s/grid</text>
<polyline points="588.8,521.9 589.29,517.78 589.78,513.69 590.28,509.64 590.77,505.68 591.26,501.81 591.75,498.07 592.25,494.47 592.74,491.04 593.23,487.8 593.72,484.78 594.22,481.98 594.71,479.43 595.2,477.14 595.69,475.12 596.19,473.4 596.68,471.97 597.17,470.85 597.66,470.05 598.16,469.56 598.65,469.4 599.14,469.56 599.63,470.05 600.13,470.85 600.62,471.97 601.11,473.4 601.6,475.12 602.1,477.14 602.59,479.43 603.08,481.98 603.57,484.78 604.07,487.8 604.56,491.04 605.05,494.47 605.54,498.07 606.04,501.81 606.53,505.68 607.02,509.64 607.51,513.69 608.01,517.78 608.5,521.9 608.99,526.02 609.48,530.11 609.98,534.16 610.47,538.12 610.96,541.99 611.45,545.73 611.95,549.33 612.44,552.76 612.93,556 613.42,559.02 613.92,561.82 614.41,564.37 614.9,566.66 615.39,568.68 615.89,570.4 616.38,571.83 616.87,572.95 617.37,573.75 617.86,574.24 618.35,574.4 618.84,574.24 619.33,573.75 619.83,572.95 620.32,571.83 620.81,570.4 621.3,568.68 621.8,566.66 622.29,564.37 622.78,561.82 623.27,559.02 623.77,556 624.26,552.76 624.75,549.33 625.25,545.73 625.74,541.99 626.23,538.12 626.72,534.16 627.21,530.11 627.71,526.02 628.2,521.9 628.69,517.78 629.18,513.69 629.68,509.64 630.17,505.68 630.66,501.81 631.15,498.07 631.65,494.47 632.14,491.04 632.63,487.8 633.12,484.78 633.62,481.98 634.11,479.43 634.6,477.14 635.09,475.12 635.59,473.4 636.08,471.97 636.57,470.85 637.06,470.05 637.56,469.56 638.05,469.4 638.54,469.56 639.03,470.05 639.53,470.85 640.02,471.97 640.51,473.4 641,475.12 641.5,477.14 641.99,479.43 642.48,481.98 642.97,484.78 643.47,487.8 643.96,491.04 644.45,494.47 644.94,498.07 645.44,501.81 645.93,505.68 646.42,509.64 646.91,513.69 647.41,517.78 647.9,521.9 648.39,526.02 648.88,530.11 649.38,534.16 649.87,538.12 650.36,541.99 650.85,545.73 651.35,549.33 651.84,552.76 652.33,556 652.82,559.02 653.32,561.82 653.81,564.37 654.3,566.66 654.79,568.68 655.29,570.4 655.78,571.83 656.27,572.95 656.76,573.75 657.26,574.24 657.75,574.4 658.24,574.24 658.73,573.75 659.23,572.95 659.72,571.83 660.21,570.4 660.7,568.68 661.2,566.66 661.69,564.37 662.18,561.82 662.67,559.02 663.17,556 663.66,552.76 664.15,549.33 664.64,545.73 665.14,541.99 665.63,538.12 666.12,534.16 666.62,530.11 667.11,526.02 667.6,521.9 668.09,517.78 668.58,513.69 669.08,509.64 669.57,505.68 670.06,501.81 670.55,498.07 671.05,494.47 671.54,491.04 672.03,487.8 672.52,484.78 673.02,481.98 673.51,479.43 674,477.14 674.49,475.12 674.99,473.4 675.48,471.97 675.97,470.85 676.46,470.05 676.96,469.56 677.45,469.4 677.94,469.56 678.43,470.05 678.93,470.85 679.42,471.97 679.91,473.4 680.4,475.12 680.9,477.14 681.39,479.43 681.88,481.98 682.38,484.78 682.87,487.8 683.36,491.04 683.85,494.47 684.34,498.07 684.84,501.81 685.33,505.68 685.82,509.64 686.31,513.69 686.81,517.78 687.3,521.9 687.79,526.02 688.28,530.11 688.78,534.16 689.27,538.12 689.76,541.99 690.25,545.73 690.75,549.33 691.24,552.76 691.73,556 692.22,559.02 692.72,561.82 693.21,564.37 693.7,566.66 694.19,568.68 694.69,570.4 695.18,571.83 695.67,572.95 696.16,573.75 696.66,574.24 697.15,574.4 697.64,574.24 698.13,573.75 698.63,572.95 699.12,571.83 699.61,570.4 700.11,568.68 700.6,566.66 701.09,564.37 701.58,561.82 702.07,559.02 702.57,556 703.06,552.76 703.55,549.33 704.04,545.73 704.54,541.99 705.03,538.12 705.52,534.16 706.01,530.11 706.51,526.02 707,521.9 707.49,517.78 707.98,513.69 708.48,509.64 708.97,505.68 709.46,501.81 709.95,498.07 710.45,494.47 710.94,491.04 711.43,487.8 711.92,484.78 712.42,481.98 712.91,479.43 713.4,477.14 713.89,475.12 714.39,473.4 714.88,471.97 715.37,470.85 715.87,470.05 716.36,469.56 716.85,469.4 717.34,469.56 717.83,470.05 718.33,470.85 718.82,471.97 719.31,473.4 719.8,475.12 720.3,477.14 720.79,479.43 721.28,481.98 721.77,484.78 722.27,487.8 722.76,491.04 723.25,494.47 723.74,498.07 724.24,501.81 724.73,505.68 725.22,509.64 725.71,513.69 726.21,517.78 726.7,521.9 727.19,526.02 727.68,530.11 728.18,534.16 728.67,538.12 729.16,541.99 729.65,545.73 730.15,549.33 730.64,552.76 731.13,556 731.62,559.02 732.12,561.82 732.61,564.37 733.1,566.66 733.59,568.68 734.09,570.4 734.58,571.83 735.07,572.95 735.56,573.75 736.06,574.24 736.55,574.4 737.04,574.24 737.53,573.75 738.03,572.95 738.52,571.83 739.01,570.4 739.5,568.68 740,566.66 740.49,564.37 740.98,561.82 741.47,559.02 741.97,556 742.46,552.76 742.95,549.33 743.44,545.73 743.94,541.99 744.43,538.12 744.92,534.16 745.41,530.11 745.91,526.02 746.4,521.9 746.89,517.78 747.38,513.69 747.88,509.64 748.37,505.68 748.86,501.81 749.36,498.07 749.85,494.47 750.34,491.04 750.83,487.8 751.32,484.78 751.82,481.98 752.31,479.43 752.8,477.14 753.29,475.12 753.79,473.4 754.28,471.97 754.77,470.85 755.26,470.05 755.76,469.56 756.25,469.4 756.74,469.56 757.23,470.05 757.73,470.85 758.22,471.97 758.71,473.4 759.2,475.12 759.7,477.14 760.19,479.43 760.68,481.98 761.17,484.78 761.67,487.8 762.16,491.04 762.65,494.47 763.14,498.07 763.64,501.81 764.13,505.68 764.62,509.64 765.12,513.69 765.61,517.78 766.1,521.9 766.59,526.02 767.08,530.11 767.58,534.16 768.07,538.12 768.56,541.99 769.05,545.73 769.55,549.33 770.04,552.76 770.53,556 771.02,559.02 771.52,561.82 772.01,564.37 772.5,566.66 772.99,568.68 773.49,570.4 773.98,571.83 774.47,572.95 774.96,573.75 775.46,574.24 775.95,574.4 776.44,574.24 776.93,573.75 777.43,572.95 777.92,571.83 778.41,570.4 778.9,568.68 779.4,566.66 779.89,564.37 780.38,561.82 780.88,559.02 781.37,556 781.86,552.76 782.35,549.33 782.84,545.73 783.34,541.99 783.83,538.12 784.32,534.16 784.81,530.11 785.31,526.02 785.8,521.9 786.29,517.78 786.78,513.69 787.28,509.64 787.77,505.68 788.26,501.81 788.75,498.07 789.25,494.47 789.74,491.04 790.23,487.8 790.72,484.78 791.22,481.98 791.71,479.43 792.2,477.14 792.69,475.12 793.19,473.4 793.68,471.97 794.17,470.85 794.66,470.05 795.16,469.56 795.65,469.4 796.14,469.56 796.63,470.05 797.13,470.85 797.62,471.97 798.11,473.4 798.61,475.12 799.1,477.14 799.59,479.43 800.08,481.98 800.57,484.78 801.07,487.8 801.56,491.04 802.05,494.47 802.54,498.07 803.04,501.81 803.53,505.68 804.02,509.64 804.51,513.69 805.01,517.78 805.5,521.9 805.99,526.02 806.48,530.11 806.98,534.16 807.47,538.12 807.96,541.99 808.45,545.73 808.95,549.33 809.44,552.76 809.93,556 810.42,559.02 810.92,561.82 811.41,564.37 811.9,566.66 812.39,568.68 812.89,570.4 813.38,571.83 813.87,572.95 814.37,573.75 814.86,574.24 815.35,574.4 815.84,574.24 816.33,573.75 816.83,572.95 817.32,571.83 817.81,570.4 818.3,568.68 818.8,566.66 819.29,564.37 819.78,561.82 820.27,559.02 820.77,556 821.26,552.76 821.75,549.33 822.24,545.73 822.74,541.99 823.23,538.12 823.72,534.16 824.21,530.11 824.71,526.02 825.2,521.9 825.69,517.78 826.18,513.69 826.68,509.64 827.17,505.68 827.66,501.81 828.15,498.07 828.65,494.47 829.14,491.04 829.63,487.8 830.12,484.78 830.62,481.98 831.11,479.43 831.6,477.14 832.09,475.12 832.59,473.4 833.08,471.97 833.57,470.85 834.06,470.05 834.56,469.56 835.05,469.4 835.54,469.56 836.03,470.05 836.53,470.85 837.02,471.97 837.51,473.4 838,475.12 838.5,477.14 838.99,479.43 839.48,481.98 839.97,484.78 840.47,487.8 840.96,491.04 841.45,494.47 841.94,498.07 842.44,501.81 842.93,505.68 843.42,509.64 843.91,513.69 844.41,517.78 844.9,521.9 845.39,526.02 845.88,530.11 846.38,534.16 846.87,538.12 847.36,541.99 847.86,545.73 848.35,549.33 848.84,552.76 849.33,556 849.82,559.02 850.32,561.82 850.81,564.37 851.3,566.66 851.79,568.68 852.29,570.4 852.78,571.83 853.27,572.95 853.76,573.75 854.26,574.24 854.75,574.4 855.24,574.24 855.73,573.75 856.23,572.95 856.72,571.83 857.21,570.4 857.7,568.68 858.2,566.66 858.69,564.37 859.18,561.82 859.67,559.02 860.17,556 860.66,552.76 861.15,549.33 861.64,545.73 862.14,541.99 862.63,538.12 863.12,534.16 863.62,530.11 864.11,526.02 864.6,521.9 865.09,517.78 865.59,513.69 866.08,509.64 866.57,505.68 867.06,501.81 867.55,498.07 868.05,494.47 868.54,491.04 869.03,487.8 869.52,484.78 870.02,481.98 870.51,479.43 871,477.14 871.49,475.12 871.99,473.4 872.48,471.97 872.97,470.85 873.46,470.05 873.96,469.56 874.45,469.4 874.94,469.56 875.43,470.05 875.93,470.85 876.42,471.97 876.91,473.4 877.4,475.12 877.9,477.14 878.39,479.43 878.88,481.98 879.38,484.78 879.87,487.8 880.36,491.04 880.85,494.47 881.35,498.07 881.84,501.81 882.33,505.68 882.82,509.64 883.31,513.69 883.81,517.78 884.3,521.9 884.79,526.02 885.28,530.11 885.78,534.16 886.27,538.12 886.76,541.99 887.25,545.73 887.75,549.33 888.24,552.76 888.73,556 889.22,559.02 889.72,561.82 890.21,564.37 890.7,566.66 891.19,568.68 891.69,570.4 892.18,571.83 892.67,572.95 893.16,573.75 893.66,574.24 894.15,574.4 894.64,574.24 895.13,573.75 895.63,572.95 896.12,571.83 896.61,570.4 897.11,568.68 897.6,566.66 898.09,564.37 898.58,561.82 899.07,559.02 899.57,556 900.06,552.76 900.55,549.33 901.04,545.73 901.54,541.99 902.03,538.12 902.52,534.16 903.01,530.11 903.51,526.02 904,521.9 904.49,517.78 904.98,513.69 905.48,509.64 905.97,505.68 906.46,501.81 906.95,498.07 907.45,494.47 907.94,491.04 908.43,487.8 908.92,484.78 909.42,481.98 909.91,479.43 910.4,477.14 910.89,475.12 911.39,473.4 911.88,471.97 912.37,470.85 912.87,470.05 913.36,469.56 913.85,469.4 914.34,469.56 914.84,470.05 915.33,470.85 915.82,471.97 916.31,473.4 916.8,475.12 917.3,477.14 917.79,479.43 918.28,481.98 918.77,484.78 919.27,487.8 919.76,491.04 920.25,494.47 920.74,498.07 921.24,501.81 921.73,505.68 922.22,509.64 922.71,513.69 923.21,517.78 923.7,521.9 924.19,526.02 924.68,530.11 925.18,534.16 925.67,538.12 926.16,541.99 926.65,545.73 927.15,549.33 927.64,552.76 928.13,556 928.62,559.02 929.12,561.82 929.61,564.37 930.1,566.66 930.6,568.68 931.09,570.4 931.58,571.83 932.07,572.95 932.56,573.75 933.06,574.24 933.55,574.4 934.04,574.24 934.53,573.75 935.03,572.95 935.52,571.83 936.01,570.4 936.5,568.68 937,566.66 937.49,564.37 937.98,561.82 938.47,559.02 938.97,556 939.46,552.76 939.95,549.33 940.44,545.73 940.94,541.99 941.43,538.12 941.92,534.16 942.41,530.11 942.91,526.02 943.4,521.9 943.89,517.78 944.38,513.69 944.88,509.64 945.37,505.68 945.86,501.81 946.36,498.07 946.85,494.47 947.34,491.04 947.83,487.8 948.32,484.78 948.82,481.98 949.31,479.43 949.8,477.14 950.29,475.12 950.79,473.4 951.28,471.97 951.77,470.85 952.26,470.05 952.76,469.56 953.25,469.4 953.74,469.56 954.23,470.05 954.73,470.85 955.22,471.97 955.71,473.4 956.2,475.12 956.7,477.14 957.19,479.43 957.68,481.98 958.17,484.78 958.67,487.8 959.16,491.04 959.65,494.47 960.14,498.07 960.64,501.81 961.13,505.68 961.62,509.64 962.12,513.69 962.61,517.78 963.1,521.9 963.59,526.02 964.09,530.11 964.58,534.16 965.07,538.12 965.56,541.99 966.05,545.73 966.55,549.33 967.04,552.76 967.53,556 968.02,559.02 968.52,561.82 969.01,564.37 969.5,566.66 969.99,568.68 970.49,570.4 970.98,571.83 971.47,572.95 971.96,573.75 972.46,574.24 972.95,574.4 973.44,574.24 973.93,573.75 974.43,572.95 974.92,571.83 975.41,570.4 975.9,568.68 976.4,566.66 976.89,564.37 977.38,561.82 977.88,559.02 978.37,556 978.86,552.76 979.35,549.33 979.85,545.73 980.34,541.99 980.83,538.12 981.32,534.16 981.81,530.11 982.31,526.02 982.8,521.9" fill="none" stroke="#0b0be0" stroke-width="4.0" stroke-linecap="butt" stroke-linejoin="round"/>
<line x1="885.6" y1="455.6" x2="920" y2="455.6" stroke="#0b0be0" stroke-width="4.2" stroke-linecap="butt"/>
<text x="925" y="460.8" font-family="Liberation Sans, sans-serif" font-size="20" font-weight="bold" fill="#0b0be0" textLength="48.8" lengthAdjust="spacingAndGlyphs">Input</text>
<polyline points="588.3,699.03 588.6,702.4 588.9,705.12 589.2,706.49 589.5,708.22 589.8,711.11 590.1,713.49 590.4,715.84 590.7,716.34 591,718.08 591.3,721.74 591.6,724.65 591.9,723.16 592.2,725.39 592.5,726.62 592.8,732.64 593.1,725.83 593.4,728.74 593.7,728.55 594,734.25 594.3,731.16 594.6,734.99 594.9,733.82 595.2,732.12 595.5,732.05 595.8,732.26 596.1,725.3 596.4,730.35 596.7,730.74 597,731.57 597.3,729.97 597.6,726.15 597.9,729.2 598.2,725.5 598.5,720.04 598.8,722.29 599.1,723.03 599.4,718.39 599.7,717.26 600,715.16 600.3,713.05 600.6,710.48 600.9,708.5 601.2,706.04 601.5,703.87 601.8,700.4 602.1,699.87 602.4,696.18 602.7,694.52 603,692.13 603.3,688.98 603.6,687.37 603.9,685.04 604.2,681.45 604.5,678.14 604.8,676.2 605.1,674.02 605.4,670.75 605.7,667.52 606,666.14 606.3,661.88 606.6,659.1 606.9,656.58 607.2,654.49 607.5,651.89 607.8,649.7 608.1,646.7 608.4,644.26 608.7,641.59 609,640.11 609.3,636.81 609.6,635.29 609.9,633.69 610.2,631.31 610.5,629.23 610.8,627.76 611.1,628.04 611.4,623.01 611.7,624.24 612,621.49 612.3,615.7 612.6,618.58 612.9,617.43 613.2,617.29 613.5,615.91 613.8,612.36 614.1,613.69 614.4,611.92 614.7,613.56 615,610.98 615.3,611.23 615.6,610.85 615.9,607.16 616.2,614.02 616.5,606.64 616.8,613.16 617.1,616.09 617.4,617.85 617.7,619.52 618,622.1 618.3,620.79 618.6,624.41 618.9,627.8 619.2,627.59 619.5,629.87 619.8,630.63 620.1,633.76 620.4,634.87 620.7,637.55 621,640.65 621.3,640.59 621.6,644.16 621.9,646.87 622.2,650.47 622.5,652.03 622.8,655.27 623.1,657.2 623.4,659.13 623.7,662.04 624,664.99 624.3,667.55 624.6,670.82 624.9,673.61 625.2,676.95 625.5,678.73 625.8,681.29 626.1,684.29 626.4,687.43 626.7,689.51 627,691.07 627.3,694.72 627.6,696.35 627.9,698.53 628.2,702.73 628.5,703.97 628.8,706.71 629.1,709.37 629.4,710.91 629.7,713.02 630,713.99 630.3,716.99 630.6,718.83 630.9,719.37 631.2,720.52 631.5,723.42 631.8,724.84 632.1,725.88 632.4,724.57 632.7,724.51 633,730.56 633.3,730.73 633.6,725.35 633.9,730.3 634.2,730.39 634.5,731.75 634.8,734.11 635.1,731.25 635.4,732.23 635.7,729.37 636,729.83 636.3,726.22 636.6,726.28 636.9,728.18 637.2,727.79 637.5,723.42 637.8,726.64 638.1,721.93 638.4,721.04 638.7,720.21 639,719.57 639.3,716.93 639.6,714.31 639.9,713.84 640.2,710.51 640.5,708.75 640.8,706.72 641.1,704.31 641.4,701.57 641.7,699.61 642,698.61 642.3,694.41 642.6,692.13 642.9,690.29 643.2,687.43 643.5,684.77 643.8,682.14 644.1,677.74 644.4,675.68 644.7,673.55 645,671.05 645.3,668.8 645.6,665.6 645.9,662.48 646.2,659.98 646.5,657.18 646.8,654.85 647.1,652.53 647.4,649.4 647.7,646.64 648,644.19 648.3,643 648.6,640.82 648.9,638.42 649.2,636.18 649.5,634.1 649.8,631.61 650.1,630.1 650.4,627.26 650.7,624.88 651,624.06 651.3,623.61 651.6,619.37 651.9,620.82 652.2,619.92 652.5,618.87 652.8,619.34 653.1,618 653.4,616.43 653.7,611.1 654,613.25 654.3,619.56 654.6,612.14 654.9,610.77 655.2,617.11 655.5,615.99 655.8,615.07 656.1,617.88 656.4,607.49 656.7,615.7 657,619.37 657.3,618.98 657.6,618.56 657.9,621.64 658.2,621.54 658.5,626.36 658.8,627.92 659.1,629.45 659.4,631 659.7,633.07 660,634.58 660.3,637.92 660.6,639.14 660.9,641.42 661.2,644.91 661.5,646.17 661.8,648.48 662.1,652.2 662.4,653.34 662.7,656.3 663,657.28 663.3,663.54 663.6,664.01 663.9,666.58 664.2,670.14 664.5,671.07 664.8,676.29 665.1,678.31 665.4,680.87 665.7,683.14 666,686.11 666.3,689.03 666.6,691.72 666.9,694.65 667.2,697 667.5,699.37 667.8,702.16 668.1,703.48 668.4,704.63 668.7,708.35 669,708.81 669.3,711.86 669.6,713.96 669.9,715.74 670.2,719.11 670.5,720.52 670.8,722.41 671.1,722.16 671.4,724.33 671.7,724.15 672,726.68 672.3,727.45 672.6,729.66 672.9,730.72 673.2,732.07 673.5,734.7 673.8,734.73 674.1,722.09 674.4,732.15 674.7,727.77 675,735.11 675.3,733.19 675.6,730.4 675.9,728.15 676.2,734.09 676.5,728.74 676.8,728.43 677.1,725.35 677.4,724.23 677.7,723.83 678,725.62 678.3,720.7 678.6,719.14 678.9,717.23 679.2,716.06 679.5,713.28 679.8,711.23 680.1,709.08 680.4,707.04 680.7,705.6 681,702.95 681.3,699.28 681.6,697.36 681.9,694.64 682.2,693.05 682.5,690.1 682.8,687.87 683.1,684.63 683.4,680.84 683.7,679.55 684,676.7 684.3,674.14 684.6,670.33 684.9,668.44 685.2,665.26 685.5,662.57 685.8,660.52 686.1,657.87 686.4,654.51 686.7,651.44 687,648.45 687.3,647.11 687.6,645.7 687.9,642.62 688.2,639 688.5,637.6 688.8,636.21 689.1,634.87 689.4,632.57 689.7,630.17 690,628.25 690.3,625.04 690.6,623.33 690.9,621.78 691.2,620.74 691.5,621.21 691.8,619.07 692.1,621.71 692.4,616.94 692.7,615.56 693,616.33 693.3,617.13 693.6,613.52 693.9,614.7 694.2,616.12 694.5,608.94 694.8,609.19 695.1,611.26 695.4,613.84 695.7,616.31 696,614.07 696.3,615.94 696.6,616.41 696.9,618.52 697.2,621.22 697.5,624.14 697.8,623.44 698.1,628.33 698.4,627.38 698.7,629.62 699,631.41 699.3,632.85 699.6,634.46 699.9,637.57 700.2,639.4 700.5,640.28 700.8,643.09 701.1,646.43 701.4,648.67 701.7,651.28 702,654.05 702.3,656.35 702.6,659.84 702.9,661.2 703.2,664 703.5,667.13 703.8,670.1 704.1,672.85 704.4,676 704.7,677.54 705,681.24 705.3,683.52 705.6,685.29 705.9,688.48 706.2,692.43 706.5,694.23 706.8,696.01 707.1,697.34 707.4,700.77 707.7,703.17 708,705.94 708.3,709.52 708.6,710.75 708.9,712.58 709.2,713.84 709.5,715.61 709.8,718.03 710.1,724.42 710.4,720.3 710.7,723.87 711,722.36 711.3,726.8 711.6,730.2 711.9,723.09 712.2,728.62 712.5,731.17 712.8,730.3 713.1,730.66 713.4,731.26 713.7,731.61 714,734.51 714.3,728.99 714.6,731.28 714.9,732.87 715.2,729.63 715.5,732.01 715.8,730.23 716.1,729.53 716.4,729.92 716.7,728.83 717,727.76 717.3,724.91 717.6,723.62 717.9,722.05 718.2,719.26 718.5,717.02 718.8,716.42 719.1,713.48 719.4,711.62 719.7,709.06 720,707.52 720.3,704.9 720.6,702.97 720.9,700.62 721.2,697.54 721.5,694.61 721.8,693.16 722.1,690.86 722.4,688.1 722.7,684.34 723,682.71 723.3,679.87 723.6,677.09 723.9,674.46 724.2,671.28 724.5,668.88 724.8,666.59 725.1,663.04 725.4,659.8 725.7,657.95 726,655.51 726.3,651.7 726.6,649.87 726.9,648.14 727.2,645.26 727.5,643.02 727.8,639.9 728.1,638.95 728.4,637.29 728.7,634.02 729,631.69 729.3,629.51 729.6,628.9 729.9,625.41 730.2,626.93 730.5,620.98 730.8,621.21 731.1,622.08 731.4,620.59 731.7,610.97 732,616.45 732.3,615.46 732.6,627.52 732.9,613.72 733.2,613.37 733.5,616.95 733.8,615.91 734.1,618.43 734.4,615 734.7,606.37 735,614.8 735.3,616.77 735.6,621.1 735.9,621.63 736.2,619 736.5,617.83 736.8,619.99 737.1,619.68 737.4,622.83 737.7,625.7 738,626.77 738.3,627.45 738.6,630.49 738.9,631.72 739.2,634.56 739.5,636.15 739.8,638.66 740.1,640.99 740.4,643.9 740.7,646.29 741,647.67 741.3,650.77 741.6,654.2 741.9,656.21 742.2,658.1 742.5,661.12 742.8,663.67 743.1,667.14 743.4,669.31 743.7,672.24 744,676.07 744.3,676.64 744.6,679.57 744.9,681.84 745.2,684.6 745.5,688.73 745.8,691.01 746.1,694.4 746.4,694.77 746.7,697.92 747,701.76 747.3,703.89 747.6,706.12 747.9,708.37 748.2,710.04 748.5,712.11 748.8,714.16 749.1,716.58 749.4,717.82 749.7,722.18 750,719.44 750.3,722.16 750.6,723.91 750.9,725.4 751.2,728.32 751.5,727.69 751.8,739.6 752.1,734.64 752.4,729.96 752.7,733.45 753,732.81 753.3,732.94 753.6,735.86 753.9,731.54 754.2,729.62 754.5,730.97 754.8,731.17 755.1,734.08 755.4,727.97 755.7,727.79 756,727.38 756.3,725.63 756.6,724.9 756.9,724.35 757.2,721.19 757.5,720.83 757.8,718.74 758.1,717.5 758.4,715.39 758.7,714.69 759,712.13 759.3,709.17 759.6,706.54 759.9,705.4 760.2,702.83 760.5,700.07 760.8,698.64 761.1,695.68 761.4,693.31 761.7,690.31 762,687.69 762.3,685.11 762.6,681.74 762.9,680.38 763.2,677.53 763.5,673.53 763.8,671.9 764.1,669.81 764.4,666.54 764.7,664.48 765,660.86 765.3,658.36 765.6,654.96 765.9,652.61 766.2,649.52 766.5,647.58 766.8,645.82 767.1,643.59 767.4,641.66 767.7,638.78 768,635.93 768.3,634.68 768.6,632.31 768.9,631.52 769.2,629.78 769.5,627.42 769.8,623.67 770.1,622.17 770.4,621.46 770.7,626.71 771,618.86 771.3,615.23 771.6,618.92 771.9,605.16 772.2,617 772.5,607.42 772.8,611.93 773.1,611.27 773.4,615.68 773.7,613.23 774,613.01 774.3,615.53 774.6,614.34 774.9,616 775.2,619.55 775.5,616.88 775.8,619.26 776.1,620.7 776.4,621.22 776.7,619.62 777,624.24 777.3,627.81 777.6,628.71 777.9,628.28 778.2,630.3 778.5,631.91 778.8,634.55 779.1,636.71 779.4,638.64 779.7,640.68 780,643.04 780.3,645.27 780.6,648.53 780.9,650.13 781.2,652.89 781.5,655.44 781.8,657.74 782.1,660.7 782.4,662.64 782.7,666.46 783,669.26 783.3,671.48 783.6,675.31 783.9,676.61 784.2,680.15 784.5,682.81 784.8,684.88 785.1,687.72 785.4,691.02 785.7,693.11 786,695.79 786.3,698.96 786.6,700.7 786.9,701.96 787.2,704.85 787.5,708.05 787.8,709.66 788.1,711.2 788.4,712.69 788.7,716.01 789,718.57 789.3,718.69 789.6,720.6 789.9,721.88 790.2,723.5 790.5,724.73 790.8,728.24 791.1,734.69 791.4,730.16 791.7,731.98 792,725.95 792.3,734.7 792.6,731.09 792.9,728.3 793.2,732.47 793.5,733.14 793.8,734.41 794.1,734.33 794.4,729.83 794.7,729.82 795,734.43 795.3,730.99 795.6,731.43 795.9,724.23 796.2,718.94 796.5,722.31 796.8,724.77 797.1,718.14 797.4,719.82 797.7,718.91 798,715.89 798.3,713.41 798.6,713.35 798.9,709.91 799.2,708.44 799.5,706.45 799.8,702.66 800.1,701.1 800.4,698.28 800.7,696.49 801,693.58 801.3,690.27 801.6,688.43 801.9,686.19 802.2,682.89 802.5,680.7 802.8,677.34 803.1,674.9 803.4,672.41 803.7,669.56 804,667.51 804.3,664.62 804.6,661.87 804.9,659.14 805.2,656.18 805.5,652.82 805.8,651.57 806.1,649.47 806.4,646.13 806.7,643.45 807,641.25 807.3,639.72 807.6,636.98 807.9,634.12 808.2,632.56 808.5,630.26 808.8,628.73 809.1,626.56 809.4,627.23 809.7,621.94 810,622.74 810.3,614.75 810.6,623.03 810.9,616.95 811.2,614.02 811.5,615.36 811.8,610.13 812.1,613.76 812.4,615.36 812.7,614.19 813,607.37 813.3,617.18 813.6,613.37 813.9,614.14 814.2,616.66 814.5,602.5 814.8,617.82 815.1,616.3 815.4,617.45 815.7,620.74 816,621.55 816.3,623.08 816.6,627.36 816.9,628.29 817.2,627.61 817.5,627.26 817.8,630.02 818.1,631.39 818.4,634.37 818.7,635.03 819,638.46 819.3,638.76 819.6,644 819.9,646.06 820.2,646.85 820.5,650.65 820.8,652.64 821.1,656.54 821.4,658.61 821.7,660.6 822,663.25 822.3,666.45 822.6,667.97 822.9,671.93 823.2,674.23 823.5,676.21 823.8,679.1 824.1,681.74 824.4,684.61 824.7,688.79 825,690.02 825.3,692.97 825.6,694.78 825.9,698.64 826.2,700.49 826.5,703.61 826.8,704.11 827.1,706.99 827.4,709.57 827.7,711.82 828,713.96 828.3,716 828.6,717.36 828.9,719.24 829.2,720.25 829.5,723.93 829.8,724.01 830.1,731.53 830.4,727.62 830.7,727.36 831,726.69 831.3,728.99 831.6,732.37 831.9,731.19 832.2,733.83 832.5,729.21 832.8,730.93 833.1,730.89 833.4,734.63 833.7,731.79 834,731.41 834.3,730.76 834.6,730.94 834.9,724.25 835.2,727.82 835.5,726.75 835.8,722.04 836.1,722.98 836.4,725.56 836.7,724.53 837,719.85 837.3,718.54 837.6,716.15 837.9,714.37 838.2,713.38 838.5,711.13 838.8,708.62 839.1,706.21 839.4,703.06 839.7,701.43 840,700.02 840.3,697.09 840.6,693.12 840.9,690.11 841.2,688.34 841.5,686.19 841.8,683.09 842.1,680.54 842.4,678.22 842.7,675.83 843,672.69 843.3,670.59 843.6,666.27 843.9,664.7 844.2,661.99 844.5,658.18 844.8,657.19 845.1,652.88 845.4,650.42 845.7,650.38 846,647.09 846.3,644.14 846.6,642.39 846.9,639.99 847.2,636.42 847.5,635.26 847.8,633.77 848.1,630.87 848.4,629.13 848.7,627.03 849,625.18 849.3,621.72 849.6,622.35 849.9,621.08 850.2,619.88 850.5,619.59 850.8,616.14 851.1,614.82 851.4,620.02 851.7,618.16 852,612.81 852.3,612.02 852.6,614.09 852.9,615.87 853.2,614.18 853.5,614.61 853.8,614.55 854.1,613.56 854.4,614.23 854.7,616.86 855,615.8 855.3,619.72 855.6,610.53 855.9,634.69 856.2,623.55 856.5,623.98 856.8,628.72 857.1,627.3 857.4,629.14 857.7,631.71 858,634.83 858.3,635.69 858.6,636.94 858.9,640.69 859.2,642.96 859.5,646.05 859.8,647.41 860.1,650.97 860.4,651.86 860.7,655.42 861,657.57 861.3,659.41 861.6,662.64 861.9,666.31 862.2,668.89 862.5,670.7 862.8,674.33 863.1,676.93 863.4,679.65 863.7,681.98 864,684.68 864.3,686.66 864.6,689.75 864.9,692.47 865.2,694.5 865.5,697.29 865.8,700.03 866.1,702.46 866.4,705.32 866.7,706.33 867,708.92 867.3,711.46 867.6,713.11 867.9,715.51 868.2,716.91 868.5,719.7 868.8,718.7 869.1,725.42 869.4,722.69 869.7,723.18 870,731.07 870.3,730.15 870.6,731.23 870.9,730.33 871.2,731.7 871.5,729.67 871.8,730.37 872.1,734.35 872.4,733.32 872.7,733.59 873,729.47 873.3,732.66 873.6,732.18 873.9,733.69 874.2,730.89 874.5,730.23 874.8,729.44 875.1,729.1 875.4,727.53 875.7,724.21 876,724.32 876.3,720.17 876.6,720.22 876.9,718.28 877.2,717.82 877.5,714.68 877.8,712.56 878.1,711.19 878.4,709.02 878.7,705.39 879,703.93 879.3,701.53 879.6,699.29 879.9,696.61 880.2,693.73 880.5,691.16 880.8,689.86 881.1,686.07 881.4,685.16 881.7,681.28 882,678.39 882.3,674.86 882.6,673.91 882.9,670.24 883.2,666.69 883.5,665.22 883.8,663.42 884.1,659.28 884.4,657.72 884.7,654.66 885,650.69 885.3,649.47 885.6,646.17 885.9,644.68 886.2,641.6 886.5,639.71 886.8,636.97 887.1,636.13 887.4,633.46 887.7,631.35 888,629.78 888.3,626.77 888.6,625.33 888.9,625.56 889.2,622.9 889.5,623.11 889.8,619.54 890.1,619.85 890.4,617.65 890.7,616.19 891,615.16 891.3,616.61 891.6,612.33 891.9,613.15 892.2,615.21 892.5,614.28 892.8,612.16 893.1,615.1 893.4,605.71 893.7,614.68 894,618.44 894.3,614.19 894.6,617.22 894.9,618 895.2,620.37 895.5,625.15 895.8,623 896.1,626.2 896.4,626.39 896.7,628.26 897,629.46 897.3,632.18 897.6,633.71 897.9,635.28 898.2,638.43 898.5,638.99 898.8,641.61 899.1,644.07 899.4,646.89 899.7,648.7 900,651.24 900.3,653.39 900.6,657.21 900.9,659.32 901.2,663.77 901.5,665.61 901.8,667.16 902.1,671.37 902.4,673.36 902.7,676.67 903,678.07 903.3,682.15 903.6,684.8 903.9,686.55 904.2,688.93 904.5,691.82 904.8,694.77 905.1,698.59 905.4,700.69 905.7,702.92 906,704.24 906.3,706.46 906.6,709.1 906.9,710.85 907.2,712.8 907.5,714.93 907.8,717.46 908.1,718.71 908.4,720.19 908.7,721.42 909,724.71 909.3,721.6 909.6,725.93 909.9,729.52 910.2,728.11 910.5,724.68 910.8,731.5 911.1,732.22 911.4,731.5 911.7,731.73 912,733.38 912.3,730.35 912.6,732.42 912.9,738.97 913.2,730.91 913.5,730.31 913.8,722.5 914.1,731.6 914.4,727.39 914.7,727.6 915,728.31 915.3,726.56 915.6,728.77 915.9,719.65 916.2,720 916.5,719.13 916.8,716.68 917.1,714.67 917.4,712.62 917.7,710.94 918,709.14 918.3,706.38 918.6,704.42 918.9,702.52 919.2,699.13 919.5,697.98 919.8,694.12 920.1,691.1 920.4,689.21 920.7,686.74 921,684.17 921.3,681 921.6,678.86 921.9,676.62 922.2,673.87 922.5,670.53 922.8,667.03 923.1,666.17 923.4,663.04 923.7,659.74 924,657.83 924.3,655.33 924.6,652.07 924.9,648.9 925.2,647.11 925.5,643.98 925.8,642 926.1,640.68 926.4,637.64 926.7,634.85 927,633.5 927.3,631.39 927.6,628.99 927.9,627.78 928.2,628.69 928.5,625.55 928.8,621.22 929.1,621.74 929.4,619.13 929.7,618.77 930,617.45 930.3,621.31 930.6,617.03 930.9,613.38 931.2,613.28 931.5,614.33 931.8,613.17 932.1,612.27 932.4,613.57 932.7,617.46 933,616.73 933.3,603.88 933.6,616.83 933.9,616.44 934.2,617.02 934.5,618.73 934.8,619.92 935.1,619.37 935.4,623.43 935.7,625.3 936,627.68 936.3,628.06 936.6,628.89 936.9,631.85 937.2,631.84 937.5,635.27 937.8,636.8 938.1,639.55 938.4,642.58 938.7,644.24 939,646.55 939.3,649.88 939.6,651.17 939.9,653.69 940.2,657.38 940.5,659.8 940.8,661.23 941.1,664.87 941.4,667.96 941.7,670.11 942,672.69 942.3,675.74 942.6,678.51 942.9,680.67 943.2,684.29 943.5,685.5 943.8,689.05 944.1,692.99 944.4,693.64 944.7,696.78 945,697.91 945.3,701.2 945.6,703.37 945.9,706.39 946.2,708.29 946.5,711.84 946.8,712.25 947.1,714.78 947.4,716.83 947.7,718.9 948,718.28 948.3,722.7 948.6,720.31 948.9,723.84 949.2,734.72 949.5,726.62 949.8,725.1 950.1,728.74 950.4,734.39 950.7,731.73 951,727 951.3,739.16 951.6,732.38 951.9,733.63 952.2,733.56 952.5,731.2 952.8,730.18 953.1,730.27 953.4,729.29 953.7,731.41 954,730.17 954.3,727.55 954.6,723.39 954.9,724.11 955.2,719.93 955.5,721.76 955.8,722.29 956.1,719.16 956.4,715.75 956.7,715.06 957,712.95 957.3,710.81 957.6,708.79 957.9,707.19 958.2,703.18 958.5,702.58 958.8,700.38 959.1,697.9 959.4,694.55 959.7,691.45 960,688.98 960.3,686.86 960.6,685.69 960.9,681.31 961.2,679.09 961.5,677.13 961.8,674.39 962.1,670.92 962.4,668.59 962.7,666.45 963,663.12 963.3,660.25 963.6,657.03 963.9,654.72 964.2,652.12 964.5,648.82 964.8,646.86 965.1,645.8 965.4,641.94 965.7,639.45 966,637.35 966.3,635.98 966.6,634.27 966.9,632.16 967.2,631.03 967.5,627.66 967.8,626.71 968.1,626.99 968.4,623.16 968.7,619.65 969,617.91 969.3,617.58 969.6,619.58 969.9,616.06 970.2,616.48 970.5,614.57 970.8,614.44 971.1,614.33 971.4,615.72 971.7,612.09 972,613.76 972.3,612.78 972.6,616.86 972.9,613.45 973.2,614.07 973.5,616.46 973.8,609.63 974.1,620.36 974.4,620.63 974.7,620.86 975,621.54 975.3,620.44 975.6,626.96 975.9,628.1 976.2,628.65 976.5,631.82 976.8,633.38 977.1,634.82 977.4,636.43 977.7,639 978,641.21 978.3,643.92 978.6,645.42 978.9,647.87 979.2,651.03 979.5,653.42 979.8,656.65 980.1,658.48 980.4,662.23 980.7,665.06 981,666.41 981.3,670.02 981.6,673.34 981.9,675.25 982.2,678.55 982.5,680.56 982.8,683.43" fill="none" stroke="#000" stroke-width="2.9" stroke-linecap="butt" stroke-linejoin="round"/>
<polyline points="588.3,807.68 588.5,811.42 588.7,815.35 588.9,809.17 589.1,814.93 589.3,814.94 589.5,822.17 589.7,821.69 589.9,819.4 590.1,819.8 590.3,819.11 590.5,822.67 590.7,820.69 590.9,821.26 591.1,824.2 591.3,824.2 591.5,823.63 591.7,823.62 591.9,826.61 592.1,832.18 592.3,833.31 592.5,828.11 592.7,837.09 592.9,824.03 593.1,833.42 593.3,830.36 593.5,829.65 593.7,831.11 593.9,831.23 594.1,835.96 594.3,839.56 594.5,840.39 594.7,839.78 594.9,844.56 595.1,842.33 595.3,833.14 595.5,836.95 595.7,835.06 595.9,836.83 596.1,822.79 596.3,836.86 596.5,831.95 596.7,829.04 596.9,837.3 597.1,825.85 597.3,826.88 597.5,824.63 597.7,826.52 597.9,822.71 598.1,820.56 598.3,822.73 598.5,825.06 598.7,824.15 598.9,825.92 599.1,819.35 599.3,822.93 599.5,822.88 599.7,821.2 599.9,819.27 600.1,812.15 600.3,815.53 600.5,810.28 600.7,808.83 600.9,810.42 601.1,805.4 601.3,799.52 601.5,811.36 601.7,811.5 601.9,806.04 602.1,802.86 602.3,804.04 602.5,803.58 602.7,802.33 602.9,803.83 603.1,795.34 603.3,799.61 603.5,797.15 603.7,790.45 603.9,790.49 604.1,792.09 604.3,790.05 604.5,791.44 604.7,797.29 604.9,800.01 605.1,794.47 605.3,796.58 605.5,798.67 605.7,800.32 605.9,801.84 606.1,802.11 606.3,810.7 606.5,807.64 606.7,807.23 606.9,808.35 607.1,807.62 607.3,813.79 607.5,814.97 607.7,815.86 607.9,814.68 608.1,813.91 608.3,820.22 608.5,817.66 608.7,820.1 608.9,823.23 609.1,826.02 609.3,818.8 609.5,828.97 609.7,828.56 609.9,826.59 610.1,823.91 610.3,833.92 610.5,829.21 610.7,832.65 610.9,836.63 611.1,827.03 611.3,834.53 611.5,835.92 611.7,840.53 611.9,833.04 612.1,831.11 612.3,826.57 612.5,821.48 612.7,832.33 612.9,825.27 613.1,822.32 613.3,823.02 613.5,822.76 613.7,820.3 613.9,823 614.1,821.51 614.3,819.4 614.5,817.69 614.7,826.34 614.9,826.4 615.1,821.25 615.3,813.55 615.5,815.2 615.7,819.63 615.9,816.24 616.1,809.43 616.3,810.97 616.5,809.98 616.7,812.34 616.9,814.58 617.1,812.33 617.3,809.98 617.5,811.88 617.7,813.78 617.9,809.8 618.1,811.92 618.3,818.09 618.5,812.71 618.7,800.21 618.9,805.81 619.1,805.54 619.3,806.82 619.5,797.6 619.7,803.55 619.9,804.43 620.1,803.18 620.3,801.51 620.5,803.08 620.7,800.57 620.9,804.39 621.1,800.97 621.3,793.25 621.5,799.76 621.7,799.51 621.9,802.46 622.1,793.97 622.3,798.49 622.5,789.36 622.7,792.72 622.9,792.25 623.1,794.62 623.3,791.77 623.5,792.26 623.7,795.97 623.9,793.49 624.1,798.21 624.3,798.56 624.5,802.07 624.7,799.13 624.9,799.03 625.1,806.31 625.3,799.77 625.5,798.7 625.7,801.16 625.9,800.89 626.1,804.31 626.3,804.28 626.5,804.39 626.7,808.85 626.9,807.23 627.1,809.68 627.3,810.48 627.5,809.38 627.7,816.07 627.9,811.8 628.1,819.63 628.3,814.62 628.5,813.42 628.7,814.33 628.9,815.98 629.1,817.97 629.3,816.28 629.5,820.73 629.7,822.38 629.9,820.56 630.1,815.32 630.3,821.46 630.5,820.97 630.7,825.39 630.9,828.75 631.1,818.12 631.3,813.73 631.5,826.18 631.7,828.92 631.9,822.44 632.1,833.32 632.3,826.69 632.5,828.62 632.7,826.18 632.9,828.77 633.1,824.2 633.3,826.39 633.5,831.14 633.7,828.17 633.9,828.59 634.1,828.67 634.3,832.64 634.5,826.98 634.7,833.31 634.9,830.65 635.1,836.06 635.3,831.59 635.5,831.54 635.7,836.2 635.9,835.56 636.1,832.19 636.3,825.71 636.5,831.07 636.7,827.8 636.9,821.91 637.1,826.64 637.3,824 637.5,821.01 637.7,821.63 637.9,816.5 638.1,819.37 638.3,826.73 638.5,821.08 638.7,821.32 638.9,818.11 639.1,812.55 639.3,810.15 639.5,808.99 639.7,814.66 639.9,814.98 640.1,810.64 640.3,809.63 640.5,807.43 640.7,806.61 640.9,809.31 641.1,807.78 641.3,808.79 641.5,805.47 641.7,797.74 641.9,804.56 642.1,800.99 642.3,805.03 642.5,801.25 642.7,799.9 642.9,799.3 643.1,798.79 643.3,798.6 643.5,797.38 643.7,797.09 643.9,795.94 644.1,800.98 644.3,792.6 644.5,791.05 644.7,794.04 644.9,798.14 645.1,801.03 645.3,798.44 645.5,794.98 645.7,799.68 645.9,804.52 646.1,809.06 646.3,805.41 646.5,808.01 646.7,806.55 646.9,813.61 647.1,812.71 647.3,815.53 647.5,817.62 647.7,820.68 647.9,825.41 648.1,824.81 648.3,820.88 648.5,826.96 648.7,825.23 648.9,829.76 649.1,834.15 649.3,825.8 649.5,836.51 649.7,830.97 649.9,829.05 650.1,827.65 650.3,841.61 650.5,836.96 650.7,831.6 650.9,830.6 651.1,830.78 651.3,832.64 651.5,841.83 651.7,835.73 651.9,833.48 652.1,828.43 652.3,829.12 652.5,829.78 652.7,828.84 652.9,831.3 653.1,829.25 653.3,821.89 653.5,825.56 653.7,822.07 653.9,823.92 654.1,822.29 654.3,822.73 654.5,819.86 654.7,819.31 654.9,822.79 655.1,821.03 655.3,817.69 655.5,817.64 655.7,819.79 655.9,815.71 656.1,811.16 656.3,809.24 656.5,813.36 656.7,817.19 656.9,808.25 657.1,812.53 657.3,808.68 657.5,810.28 657.7,815.43 657.9,815.18 658.1,810.86 658.3,807.54 658.5,810.47 658.7,811.54 658.9,804.77 659.1,809.25 659.3,810.99 659.5,809.23 659.7,810.27 659.9,808.59 660.1,808.72 660.3,804.56 660.5,810.82 660.7,801.35 660.9,806.06 661.1,795.23 661.3,796.42 661.5,800.13 661.7,803.84 661.9,790.87 662.1,794.64 662.3,796.24 662.5,795.28 662.7,793.86 662.9,795.14 663.1,795.63 663.3,795.2 663.5,797.53 663.7,795.19 663.9,800.36 664.1,794.72 664.3,803.01 664.5,794.58 664.7,797.14 664.9,803.94 665.1,802.36 665.3,800.67 665.5,799.92 665.7,803.55 665.9,806.71 666.1,814.79 666.3,802.86 666.5,810.28 666.7,811.48 666.9,809.11 667.1,808.43 667.3,809.4 667.5,810.87 667.7,808.95 667.9,808.4 668.1,811.94 668.3,810.8 668.5,815.25 668.7,815.36 668.9,817.63 669.1,809.58 669.3,812.18 669.5,819 669.7,814.39 669.9,817.65 670.1,816.76 670.3,816.17 670.5,823.51 670.7,821.46 670.9,821.28 671.1,823.11 671.3,819.77 671.5,820.35 671.7,827.03 671.9,823.27 672.1,829.85 672.3,822.74 672.5,825.4 672.7,830.6 672.9,835.13 673.1,831.07 673.3,836.99 673.5,832.84 673.7,833.33 673.9,833.15 674.1,826.38 674.3,832.32 674.5,829.53 674.7,834.48 674.9,836.06 675.1,837.47 675.3,835.13 675.5,837.17 675.7,837.59 675.9,830.47 676.1,835.79 676.3,830.03 676.5,829.79 676.7,830.14 676.9,827.51 677.1,832.8 677.3,832.15 677.5,827.67 677.7,828.83 677.9,823.22 678.1,826.99 678.3,820.77 678.5,821.12 678.7,820.67 678.9,819.61 679.1,817.85 679.3,817.22 679.5,816.85 679.7,814.01 679.9,812.53 680.1,810.19 680.3,812.78 680.5,814.66 680.7,806.21 680.9,808.69 681.1,812.67 681.3,806.68 681.5,806.95 681.7,802.1 681.9,804.08 682.1,809.5 682.3,806.03 682.5,803.31 682.7,808.13 682.9,801.82 683.1,795.23 683.3,799.69 683.5,815.9 683.7,798.64 683.9,798.8 684.1,795.24 684.3,796.99 684.5,798.2 684.7,800.42 684.9,794.03 685.1,799.68 685.3,804.05 685.5,796.49 685.7,809.29 685.9,809.61 686.1,802.55 686.3,811.31 686.5,810.78 686.7,810.76 686.9,808.69 687.1,814.86 687.3,811.03 687.5,816.67 687.7,817.74 687.9,820.6 688.1,817.88 688.3,827.25 688.5,818.24 688.7,820.88 688.9,820.47 689.1,822.76 689.3,820.56 689.5,822.41 689.7,822.18 689.9,827.23 690.1,823.05 690.3,827.52 690.5,828.48 690.7,833.19 690.9,825.24 691.1,828.4 691.3,833.76 691.5,833.62 691.7,826.46 691.9,827.02 692.1,822.68 692.3,826.16 692.5,824.76 692.7,822.25 692.9,822.1 693.1,822.06 693.3,818.45 693.5,820.57 693.7,814.86 693.9,812.15 694.1,810.7 694.3,816.12 694.5,816.27 694.7,815.66 694.9,808.39 695.1,817.79 695.3,814.99 695.5,817.04 695.7,812.11 695.9,806.57 696.1,812.54 696.3,800.28 696.5,808.72 696.7,810.17 696.9,811.73 697.1,813.43 697.3,807.29 697.5,814.22 697.7,806.71 697.9,808.12 698.1,807.02 698.3,805.72 698.5,807.69 698.7,806.79 698.9,815.11 699.1,802.02 699.3,805.81 699.5,807.37 699.7,809.69 699.9,806.38 700.1,804.66 700.3,799.28 700.5,798.79 700.7,800.91 700.9,801.75 701.1,798.55 701.3,799.03 701.5,802.38 701.7,804.57 701.9,799.57 702.1,800.62 702.3,800.92 702.5,796.73 702.7,803.66 702.9,796.69 703.1,798.11 703.3,795.7 703.5,797.83 703.7,800.67 703.9,802.66 704.1,793.63 704.3,803.13 704.5,804.55 704.7,801.99 704.9,799.65 705.1,803.24 705.3,805.38 705.5,805.47 705.7,799.13 705.9,805.58 706.1,810.1 706.3,803.14 706.5,806.46 706.7,807.02 706.9,807.05 707.1,813.45 707.3,815.25 707.5,812.22 707.7,809.17 707.9,815.48 708.1,811.4 708.3,811.56 708.5,812.55 708.7,810.65 708.9,814.25 709.1,816.77 709.3,813.27 709.5,809.86 709.7,825.81 709.9,814.61 710.1,815.74 710.3,824.45 710.5,816.51 710.7,823.19 710.9,817.95 711.1,819.29 711.3,825.38 711.5,824.15 711.7,826.03 711.9,826.67 712.1,825.75 712.3,825.01 712.5,823.67 712.7,831.06 712.9,833.3 713.1,827.12 713.3,828.72 713.5,820.1 713.7,823.91 713.9,830.45 714.1,830.15 714.3,827.2 714.5,827.76 714.7,831.08 714.9,833.71 715.1,832.48 715.3,830.02 715.5,831.78 715.7,834.98 715.9,831.09 716.1,837.2 716.3,830.81 716.5,822.27 716.7,829.25 716.9,831.37 717.1,835.5 717.3,824.95 717.5,831.48 717.7,822.22 717.9,829.46 718.1,822.05 718.3,822.25 718.5,832.53 718.7,821.51 718.9,817.42 719.1,816.9 719.3,814.8 719.5,817.69 719.7,811.13 719.9,813.27 720.1,811.82 720.3,809.07 720.5,815.55 720.7,811.71 720.9,810.58 721.1,806.85 721.3,806.42 721.5,809.9 721.7,808.21 721.9,803.99 722.1,806.48 722.3,807.33 722.5,800.18 722.7,803.45 722.9,805.15 723.1,802.4 723.3,802.06 723.5,798.06 723.7,803.2 723.9,796.04 724.1,795.5 724.3,792.42 724.5,797.87 724.7,794.87 724.9,796.76 725.1,797.82 725.3,798.94 725.5,792.27 725.7,800.57 725.9,798.9 726.1,798.33 726.3,805.54 726.5,807.52 726.7,805.6 726.9,812.1 727.1,816.69 727.3,818.13 727.5,812.45 727.7,812.3 727.9,818.89 728.1,817.74 728.3,819.4 728.5,817.72 728.7,824.38 728.9,824.4 729.1,825.07 729.3,826.68 729.5,819.57 729.7,823.63 729.9,825.64 730.1,827.23 730.3,825.57 730.5,834.96 730.7,835.09 730.9,825.81 731.1,827.9 731.3,830.74 731.5,832.43 731.7,827.69 731.9,840.88 732.1,827.16 732.3,830.35 732.5,819.29 732.7,832.18 732.9,822.82 733.1,834.77 733.3,826.87 733.5,831.66 733.7,821.6 733.9,824 734.1,828.89 734.3,824.07 734.5,819.76 734.7,822.82 734.9,817.06 735.1,817.34 735.3,824.63 735.5,815.69 735.7,821.82 735.9,812.5 736.1,807.86 736.3,814.34 736.5,810.31 736.7,809.79 736.9,806.47 737.1,808.82 737.3,810.15 737.5,810.6 737.7,807.97 737.9,805.3 738.1,810.56 738.3,807.43 738.5,811.04 738.7,811.59 738.9,804.37 739.1,806.64 739.3,808.56 739.5,812.81 739.7,803.62 739.9,807.22 740.1,803.7 740.3,800.76 740.5,802.27 740.7,799.59 740.9,804.07 741.1,803.6 741.3,795.43 741.5,797.96 741.7,795.49 741.9,792.95 742.1,794.15 742.3,796.9 742.5,792.63 742.7,791.75 742.9,793.93 743.1,788.77 743.3,799.25 743.5,795.88 743.7,797.39 743.9,799.69 744.1,794.77 744.3,794.28 744.5,798.04 744.7,786.35 744.9,796.25 745.1,796.03 745.3,804.04 745.5,798.11 745.7,796.2 745.9,801.71 746.1,796.75 746.3,805.89 746.5,805.51 746.7,798.14 746.9,800.45 747.1,805.53 747.3,804.04 747.5,808.52 747.7,799.59 747.9,811.39 748.1,807.76 748.3,812.06 748.5,817.94 748.7,813.45 748.9,816.17 749.1,812.4 749.3,813.68 749.5,818.61 749.7,817.49 749.9,818.73 750.1,818.41 750.3,820 750.5,819.3 750.7,821.34 750.9,828.86 751.1,816.43 751.3,826.79 751.5,823.68 751.7,820.25 751.9,823.77 752.1,826.69 752.3,825.34 752.5,826.18 752.7,827.86 752.9,828.83 753.1,824.31 753.3,830.95 753.5,832.49 753.7,829.68 753.9,831.35 754.1,828.7 754.3,830.25 754.5,832.77 754.7,822.68 754.9,830.18 755.1,831.08 755.3,828.15 755.5,828.82 755.7,832.22 755.9,825.71 756.1,829.9 756.3,827.74 756.5,823.95 756.7,824.32 756.9,827.76 757.1,828.74 757.3,829.93 757.5,826.89 757.7,828.75 757.9,821.87 758.1,824.9 758.3,827.79 758.5,823.88 758.7,822.99 758.9,820.38 759.1,818.72 759.3,814.33 759.5,809.94 759.7,807.94 759.9,816.59 760.1,809.39 760.3,811.19 760.5,813.1 760.7,807.33 760.9,811.54 761.1,808.78 761.3,815.25 761.5,809.98 761.7,804.88 761.9,808.74 762.1,802.76 762.3,804.24 762.5,803.54 762.7,790.87 762.9,804.97 763.1,799.54 763.3,792.92 763.5,795.92 763.7,809.28 763.9,796.77 764.1,796.24 764.3,797.95 764.5,794.8 764.7,794.66 764.9,793.91 765.1,803.2 765.3,798.35 765.5,806.61 765.7,806.6 765.9,808.07 766.1,803.32 766.3,810.9 766.5,806.86 766.7,811.64 766.9,813.27 767.1,814.64 767.3,810.41 767.5,814.24 767.7,818.95 767.9,816.85 768.1,818.58 768.3,828.92 768.5,832.6 768.7,831.74 768.9,821.52 769.1,830.46 769.3,824.12 769.5,830.02 769.7,828.3 769.9,828.5 770.1,835.41 770.3,818.56 770.5,834.15 770.7,838.87 770.9,833.61 771.1,831.97 771.3,830.09 771.5,824.42 771.7,828.53 771.9,824.82 772.1,829.19 772.3,826.18 772.5,824.94 772.7,836.52 772.9,825.23 773.1,823.11 773.3,825.22 773.5,821.69 773.7,825.46 773.9,820.69 774.1,817.73 774.3,821.4 774.5,822.62 774.7,825.77 774.9,818.45 775.1,818.46 775.3,812.5 775.5,817.68 775.7,814.49 775.9,814.39 776.1,811.99 776.3,810.25 776.5,819.35 776.7,810.88 776.9,815.03 777.1,813.41 777.3,812.47 777.5,814.34 777.7,810.38 777.9,809.64 778.1,811.95 778.3,809.2 778.5,807.01 778.7,808.5 778.9,805.91 779.1,804.99 779.3,810.61 779.5,805.67 779.7,806.65 779.9,804.12 780.1,800.54 780.3,800.68 780.5,808.68 780.7,808.76 780.9,800.08 781.1,800.18 781.3,802.16 781.5,802.79 781.7,802.8 781.9,800.65 782.1,796.93 782.3,798.06 782.5,796.42 782.7,802.44 782.9,793.82 783.1,798.26 783.3,793.51 783.5,799.2 783.7,802.09 783.9,798.52 784.1,801.57 784.3,802.08 784.5,802.51 784.7,801.23 784.9,806.67 785.1,802.43 785.3,801.71 785.5,804.43 785.7,806.17 785.9,802.85 786.1,801.96 786.3,808.38 786.5,811.76 786.7,810.02 786.9,809.25 787.1,788.48 787.3,805.98 787.5,813.74 787.7,818.2 787.9,816.79 788.1,812.59 788.3,818.01 788.5,816.06 788.7,813.96 788.9,814.6 789.1,819.67 789.3,816.52 789.5,816.58 789.7,822.59 789.9,817.49 790.1,822.9 790.3,823.7 790.5,819.29 790.7,819.44 790.9,826.92 791.1,822.48 791.3,822.12 791.5,828.12 791.7,825.61 791.9,821.19 792.1,824.78 792.3,827.76 792.5,829.67 792.7,827.98 792.9,826.73 793.1,828.63 793.3,831.47 793.5,830.71 793.7,835.59 793.9,833.01 794.1,834.95 794.3,833.82 794.5,829.63 794.7,836.99 794.9,835.81 795.1,838.89 795.3,836.54 795.5,834.25 795.7,840.33 795.9,835.55 796.1,832.37 796.3,833.47 796.5,833.74 796.7,833.16 796.9,830.92 797.1,826.39 797.3,826.11 797.5,826.38 797.7,832.26 797.9,825.87 798.1,820.88 798.3,829.28 798.5,821.89 798.7,821.06 798.9,816.26 799.1,815.03 799.3,820.19 799.5,813.85 799.7,805.63 799.9,808.98 800.1,822.85 800.3,807.82 800.5,814.54 800.7,807.95 800.9,811.66 801.1,814.06 801.3,808.86 801.5,809.93 801.7,803.73 801.9,806.56 802.1,805.72 802.3,799.43 802.5,806.13 802.7,803.36 802.9,800.73 803.1,796.3 803.3,800.39 803.5,798.25 803.7,796.72 803.9,799.18 804.1,792.08 804.3,786.72 804.5,794.88 804.7,797.7 804.9,799.68 805.1,798.99 805.3,801.39 805.5,805.45 805.7,807 805.9,807.5 806.1,804.16 806.3,814.99 806.5,807.71 806.7,809.53 806.9,816.64 807.1,813.64 807.3,812.45 807.5,818.6 807.7,830.58 807.9,817.14 808.1,824.13 808.3,823.95 808.5,820.3 808.7,825.82 808.9,826.41 809.1,828.59 809.3,829.24 809.5,830.3 809.7,827.14 809.9,831.81 810.1,832.84 810.3,827.79 810.5,831.61 810.7,837.28 810.9,826.72 811.1,835.37 811.3,830.9 811.5,832.73 811.7,829.08 811.9,823.93 812.1,823.29 812.3,826.06 812.5,832.15 812.7,823.67 812.9,827.35 813.1,830.96 813.3,820.09 813.5,832.62 813.7,824.01 813.9,828.02 814.1,820.16 814.3,821.59 814.5,820.99 814.7,821.03 814.9,822 815.1,821.33 815.3,816.39 815.5,816.84 815.7,820.42 815.9,818.02 816.1,814.3 816.3,813.99 816.5,817.56 816.7,814.89 816.9,812.1 817.1,811.18 817.3,809.84 817.5,807.45 817.7,808.52 817.9,815.26 818.1,812.32 818.3,812.76 818.5,805.35 818.7,810.9 818.9,808.02 819.1,804.76 819.3,806.37 819.5,809.23 819.7,809.24 819.9,806.42 820.1,804.99 820.3,804.85 820.5,803.04 820.7,803.1 820.9,802.66 821.1,793.59 821.3,792.96 821.5,793.75 821.7,802.3 821.9,803.39 822.1,796.93 822.3,789.38 822.5,795.98 822.7,795.19 822.9,796.33 823.1,794.02 823.3,801.57 823.5,799.37 823.7,796.29 823.9,793.96 824.1,803.31 824.3,798.49 824.5,800.9 824.7,804 824.9,799.91 825.1,809.23 825.3,805.1 825.5,801.61 825.7,804.5 825.9,805.37 826.1,807 826.3,804.52 826.5,806.2 826.7,808.28 826.9,808.76 827.1,808.17 827.3,807.39 827.5,811.13 827.7,810.27 827.9,804.68 828.1,805.14 828.3,815.96 828.5,809.5 828.7,817.28 828.9,814.07 829.1,813.78 829.3,816.62 829.5,820.67 829.7,817.47 829.9,815.45 830.1,818.36 830.3,815.97 830.5,823.34 830.7,819.9 830.9,823.89 831.1,820.96 831.3,821.28 831.5,822.99 831.7,828.33 831.9,822.5 832.1,823.61 832.3,821.43 832.5,828.03 832.7,826.57 832.9,832.8 833.1,832.38 833.3,833.48 833.5,832.1 833.7,837.63 833.9,830.97 834.1,838.52 834.3,840.04 834.5,836.85 834.7,836.24 834.9,837.08 835.1,836.02 835.3,833.42 835.5,830.67 835.7,837.64 835.9,840.09 836.1,841.59 836.3,838.35 836.5,830.87 836.7,837.23 836.9,828.68 837.1,829.35 837.3,830.21 837.5,830.12 837.7,824.61 837.9,824.46 838.1,824.77 838.3,816.64 838.5,818.12 838.7,820.45 838.9,823.82 839.1,821.59 839.3,819.59 839.5,820.28 839.7,814.98 839.9,816.39 840.1,814.52 840.3,811.48 840.5,810.83 840.7,809.2 840.9,814.44 841.1,811.24 841.3,805.18 841.5,803.84 841.7,807.7 841.9,805.85 842.1,808.28 842.3,799.97 842.5,799.84 842.7,801.13 842.9,796.14 843.1,800.26 843.3,794.9 843.5,790.91 843.7,796.16 843.9,792.58 844.1,791.95 844.3,792.55 844.5,787.27 844.7,791.37 844.9,795.4 845.1,793.86 845.3,799.86 845.5,796.34 845.7,796.39 845.9,802.28 846.1,801.51 846.3,807.74 846.5,811.71 846.7,821.4 846.9,813.75 847.1,814.41 847.3,817.73 847.5,814.4 847.7,819.36 847.9,814.84 848.1,819.06 848.3,820.89 848.5,824.64 848.7,825.17 848.9,822.25 849.1,829.55 849.3,825.14 849.5,822.82 849.7,828.3 849.9,834.5 850.1,821.92 850.3,831.82 850.5,833.25 850.7,831.82 850.9,837.35 851.1,832.74 851.3,830.93 851.5,833.77 851.7,834.62 851.9,832.71 852.1,830.24 852.3,829.13 852.5,832.65 852.7,830.04 852.9,829.36 853.1,826.73 853.3,824.11 853.5,820.99 853.7,825.93 853.9,820.39 854.1,820.61 854.3,821.76 854.5,827.87 854.7,826.34 854.9,830.19 855.1,821.87 855.3,825.33 855.5,814.03 855.7,819.54 855.9,814.54 856.1,815.24 856.3,821.11 856.5,817.84 856.7,816.87 856.9,819.43 857.1,789.54 857.3,809.59 857.5,803.91 857.7,809.64 857.9,806.07 858.1,805.22 858.3,809.61 858.5,807.96 858.7,806.23 858.9,808.25 859.1,802.69 859.3,811.94 859.5,805.71 859.7,799.35 859.9,798.76 860.1,808.43 860.3,802.21 860.5,799.12 860.7,797.98 860.9,802.29 861.1,797.3 861.3,799.64 861.5,799.25 861.7,797.42 861.9,804.14 862.1,800.82 862.3,798.63 862.5,794.68 862.7,792.25 862.9,795.71 863.1,795.41 863.3,804.14 863.5,800.36 863.7,794.76 863.9,802.32 864.1,803.19 864.3,801.5 864.5,798.71 864.7,801.81 864.9,798.17 865.1,797.56 865.3,795.47 865.5,799.65 865.7,800.23 865.9,795.22 866.1,803.2 866.3,802.65 866.5,803.75 866.7,808.67 866.9,799.62 867.1,808.56 867.3,804.34 867.5,812.19 867.7,811.16 867.9,810.33 868.1,812.3 868.3,808.41 868.5,814.33 868.7,812.8 868.9,817.45 869.1,811.35 869.3,805.28 869.5,813.43 869.7,819.32 869.9,823.29 870.1,821.4 870.3,818.09 870.5,818.04 870.7,822.2 870.9,821.3 871.1,817.02 871.3,824.91 871.5,826.67 871.7,826.94 871.9,827.75 872.1,824.63 872.3,826.96 872.5,826.94 872.7,827.98 872.9,834.35 873.1,831.29 873.3,832.33 873.5,824.57 873.7,828.03 873.9,829.32 874.1,831.56 874.3,835.81 874.5,834.53 874.7,838.23 874.9,836.17 875.1,836 875.3,833.22 875.5,829.59 875.7,831.32 875.9,828.46 876.1,825.6 876.3,831.33 876.5,826.88 876.7,828.42 876.9,827.1 877.1,820.89 877.3,824.84 877.5,825.41 877.7,820.74 877.9,824.75 878.1,815.89 878.3,817.9 878.5,809.52 878.7,814.26 878.9,812.08 879.1,816.37 879.3,819.02 879.5,812.75 879.7,799.4 879.9,804.77 880.1,806.28 880.3,807.84 880.5,819.86 880.7,804.4 880.9,805.21 881.1,814.84 881.3,805.12 881.5,798.78 881.7,806.48 881.9,807.52 882.1,800.15 882.3,799.29 882.5,800.71 882.7,798.64 882.9,792.73 883.1,796.99 883.3,801.2 883.5,797.96 883.7,794 883.9,791.13 884.1,793.6 884.3,799.51 884.5,803.67 884.7,800.9 884.9,797.58 885.1,793.58 885.3,806.62 885.5,805.01 885.7,809.2 885.9,800.21 886.1,810.38 886.3,805.35 886.5,806.73 886.7,811.96 886.9,806.73 887.1,812.27 887.3,807.06 887.5,816.12 887.7,810.22 887.9,814.67 888.1,819.05 888.3,816.78 888.5,820.41 888.7,816.81 888.9,819.56 889.1,821.4 889.3,824.35 889.5,826.14 889.7,821.3 889.9,827.52 890.1,833.43 890.3,827.93 890.5,831.54 890.7,834.41 890.9,838.9 891.1,832.55 891.3,829.19 891.5,831.91 891.7,823.55 891.9,832.23 892.1,823.41 892.3,825.79 892.5,826.07 892.7,826.07 892.9,828.09 893.1,829.79 893.3,829.56 893.5,821.27 893.7,821.37 893.9,821.1 894.1,819.23 894.3,823.25 894.5,821.46 894.7,823.86 894.9,821.74 895.1,817.45 895.3,818.21 895.5,820.16 895.7,818.23 895.9,809.92 896.1,812.43 896.3,820.94 896.5,816.3 896.7,813.57 896.9,816.64 897.1,819.61 897.3,814.12 897.5,811.02 897.7,807.71 897.9,811.56 898.1,807.85 898.3,806.82 898.5,811.06 898.7,806.66 898.9,803.51 899.1,808.93 899.3,807.77 899.5,802.78 899.7,801.57 899.9,806.34 900.1,803.13 900.3,796.7 900.5,796.75 900.7,801.28 900.9,797.98 901.1,799.76 901.3,794.75 901.5,799.23 901.7,793.92 901.9,794.28 902.1,796.15 902.3,796.74 902.5,792.65 902.7,790.23 902.9,789.59 903.1,785.95 903.3,790.67 903.5,793.14 903.7,791.62 903.9,794.01 904.1,798.42 904.3,789.96 904.5,794.89 904.7,795.61 904.9,794.48 905.1,803.61 905.3,801.85 905.5,797.24 905.7,795.62 905.9,805.04 906.1,798.64 906.3,805.52 906.5,805.1 906.7,805.81 906.9,809.58 907.1,807.4 907.3,807.52 907.5,814.9 907.7,812.34 907.9,807.92 908.1,811.1 908.3,821.09 908.5,815.16 908.7,820.03 908.9,823.42 909.1,816.58 909.3,819.34 909.5,815.35 909.7,815.26 909.9,815.22 910.1,818.51 910.3,817.92 910.5,818.75 910.7,814.02 910.9,824.48 911.1,820.15 911.3,826.48 911.5,826.02 911.7,822.73 911.9,828.62 912.1,828.31 912.3,828.67 912.5,829.31 912.7,831.06 912.9,822.69 913.1,830.33 913.3,826.61 913.5,830.86 913.7,831.77 913.9,832.66 914.1,827.42 914.3,837.95 914.5,830.56 914.7,823.96 914.9,833.31 915.1,841.18 915.3,834.6 915.5,829.93 915.7,841.71 915.9,827.5 916.1,828.69 916.3,830.81 916.5,826.49 916.7,829.33 916.9,825.13 917.1,822.23 917.3,822.16 917.5,826.95 917.7,823.03 917.9,826.97 918.1,819.75 918.3,819.83 918.5,817.82 918.7,818.84 918.9,815.19 919.1,816.54 919.3,816.32 919.5,808.15 919.7,809.78 919.9,814.54 920.1,807.83 920.3,805.97 920.5,807.01 920.7,807.68 920.9,806.24 921.1,800.82 921.3,805.77 921.5,803.25 921.7,806.93 921.9,803.97 922.1,801 922.3,802.16 922.5,803.02 922.7,798.97 922.9,802.05 923.1,798.69 923.3,798.85 923.5,801.32 923.7,803.54 923.9,794.55 924.1,801.92 924.3,801.95 924.5,801.05 924.7,803.33 924.9,793.13 925.1,799.29 925.3,803.42 925.5,804.97 925.7,803.41 925.9,808.18 926.1,803.43 926.3,810.22 926.5,805.81 926.7,812.01 926.9,812.64 927.1,811.19 927.3,815.85 927.5,812.21 927.7,816.76 927.9,815.19 928.1,820.77 928.3,820.46 928.5,824.92 928.7,823.42 928.9,819.28 929.1,830.6 929.3,824.48 929.5,819.96 929.7,820.47 929.9,826.5 930.1,827.49 930.3,830.93 930.5,827.22 930.7,833.67 930.9,830.03 931.1,831.98 931.3,824.49 931.5,825.17 931.7,829.29 931.9,824.27 932.1,830.28 932.3,827.47 932.5,824.97 932.7,830.56 932.9,820.08 933.1,825.46 933.3,822.75 933.5,825.45 933.7,825.32 933.9,823.72 934.1,826.05 934.3,822.72 934.5,826.65 934.7,818.61 934.9,820.48 935.1,819.69 935.3,818.79 935.5,814.3 935.7,815.84 935.9,815.9 936.1,822.52 936.3,812.73 936.5,817.99 936.7,818.4 936.9,811.45 937.1,814.39 937.3,812.83 937.5,812.64 937.7,812.64 937.9,811.52 938.1,813.93 938.3,808.17 938.5,802.27 938.7,802.97 938.9,806.97 939.1,807.18 939.3,806.64 939.5,805.34 939.7,798.97 939.9,786.23 940.1,803.54 940.3,801.64 940.5,804.55 940.7,800.03 940.9,802.87 941.1,797.89 941.3,796.38 941.5,799.19 941.7,791.96 941.9,801.74 942.1,794.08 942.3,796.94 942.5,793.29 942.7,792.65 942.9,796.72 943.1,790.49 943.3,785.54 943.5,807.79 943.7,800.4 943.9,798.46 944.1,796.91 944.3,804.11 944.5,797.95 944.7,800.04 944.9,803.25 945.1,803.84 945.3,805.01 945.5,807.24 945.7,805.56 945.9,802.47 946.1,804.13 946.3,806.09 946.5,809.53 946.7,804.64 946.9,805.28 947.1,803.66 947.3,803.12 947.5,808.37 947.7,803.78 947.9,812.93 948.1,807.87 948.3,807.05 948.5,816.18 948.7,813.6 948.9,814.96 949.1,813.62 949.3,810.54 949.5,812.54 949.7,814.95 949.9,818.3 950.1,815.66 950.3,818.64 950.5,818.71 950.7,825.43 950.9,824.5 951.1,825.55 951.3,824.62 951.5,823.2 951.7,826.26 951.9,823.95 952.1,831.19 952.3,826.71 952.5,824.59 952.7,823.65 952.9,826.69 953.1,817.05 953.3,834.4 953.5,833.77 953.7,832.37 953.9,832.33 954.1,839.58 954.3,828.27 954.5,831.91 954.7,835.34 954.9,830.63 955.1,828.8 955.3,831.68 955.5,832.06 955.7,838.15 955.9,828.23 956.1,829.13 956.3,829.84 956.5,826.28 956.7,829.27 956.9,827.23 957.1,828.02 957.3,822.62 957.5,821.8 957.7,825.6 957.9,825.34 958.1,825.24 958.3,819.98 958.5,821.79 958.7,821.57 958.9,820.35 959.1,822.54 959.3,813.88 959.5,813 959.7,815.86 959.9,814.76 960.1,811.7 960.3,812.38 960.5,814 960.7,812.53 960.9,803.74 961.1,805.56 961.3,809.12 961.5,806.32 961.7,807.42 961.9,802.54 962.1,805.67 962.3,793.71 962.5,802.6 962.7,803.17 962.9,799.98 963.1,799.52 963.3,799.9 963.5,797.04 963.7,793.52 963.9,803.16 964.1,795.31 964.3,790.15 964.5,797.03 964.7,795.07 964.9,799.82 965.1,803.22 965.3,800.19 965.5,800.5 965.7,800.71 965.9,806.84 966.1,796.28 966.3,809.64 966.5,812.25 966.7,807.64 966.9,803.04 967.1,811.12 967.3,813.74 967.5,808.91 967.7,818.42 967.9,818.78 968.1,821.1 968.3,818.35 968.5,818.53 968.7,819.88 968.9,821.8 969.1,817.8 969.3,824.9 969.5,825.25 969.7,834.88 969.9,830.64 970.1,824.61 970.3,832.95 970.5,829.66 970.7,833.23 970.9,833.09 971.1,834.98 971.3,827.99 971.5,835.24 971.7,833.31 971.9,839.19 972.1,829.15 972.3,831.99 972.5,826.55 972.7,827.95 972.9,828.85 973.1,827.39 973.3,827.59 973.5,825.87 973.7,821.93 973.9,821.49 974.1,816.89 974.3,815.71 974.5,828.29 974.7,817.34 974.9,820.16 975.1,816.97 975.3,829.18 975.5,819.1 975.7,817.52 975.9,819.06 976.1,821.83 976.3,823.62 976.5,822.75 976.7,820.81 976.9,822.61 977.1,821.18 977.3,815.7 977.5,817.47 977.7,814.65 977.9,812.24 978.1,808.77 978.3,810.35 978.5,812.47 978.7,805.16 978.9,812.65 979.1,808.68 979.3,809.25 979.5,808.84 979.7,809.52 979.9,809.71 980.1,809.64 980.3,803.9 980.5,803.44 980.7,802.04 980.9,797.71 981.1,802.63 981.3,807.11 981.5,798.69 981.7,795.48 981.9,798.65 982.1,793.55 982.3,789.06 982.5,800.48 982.7,798.4 982.9,803.24" fill="none" stroke="#f20d0d" stroke-width="2.2" stroke-linecap="butt" stroke-linejoin="round"/>
<line x1="629" y1="771.6" x2="676" y2="771.6" stroke="#000" stroke-width="3.6" stroke-linecap="butt"/>
<polygon points="607.2,771.6 630,763.8 630,779.4" fill="#000"/>
<line x1="689.6" y1="771.8" x2="722.7" y2="771.8" stroke="#000" stroke-width="1.6" stroke-linecap="butt"/>
<text x="729.6" y="776.6" font-family="Liberation Sans, sans-serif" font-size="19" font-weight="bold" fill="#000" textLength="59.1" lengthAdjust="spacingAndGlyphs">Linear</text>
<line x1="754.5" y1="869.9" x2="787.7" y2="869.9" stroke="#ee1515" stroke-width="1.6" stroke-linecap="butt"/>
<text x="793.6" y="875.9" font-family="Liberation Sans, sans-serif" font-size="20" font-weight="bold" fill="#ee1515" textLength="75.5" lengthAdjust="spacingAndGlyphs">Doubler</text>
<line x1="879.2" y1="869.9" x2="918" y2="869.9" stroke="#ee1515" stroke-width="3.6" stroke-linecap="butt"/>
<polygon points="940,869.9 916,862.3 916,877.5" fill="#ee1515"/>
</svg></body></html>
